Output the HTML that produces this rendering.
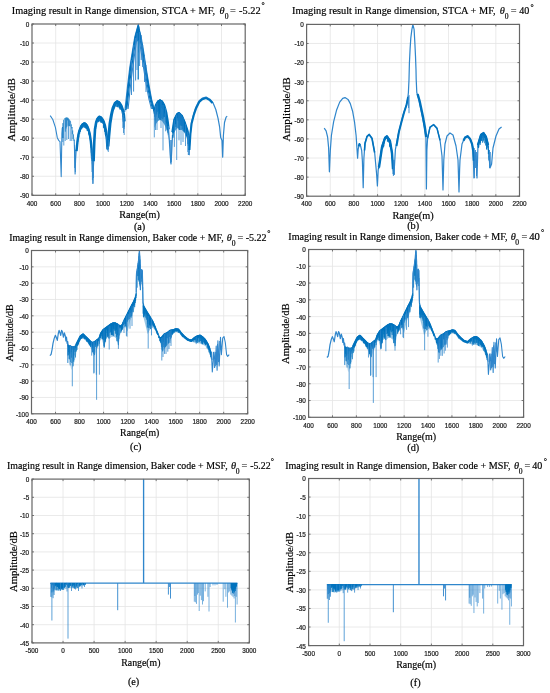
<!DOCTYPE html>
<html><head><meta charset="utf-8"><title>Imaging result in Range dimension</title>
<style>html,body{margin:0;padding:0;background:#fff;}svg{display:block;} .s{stroke:#000;stroke-width:0.18px;} .t{stroke:#1a1a1a;stroke-width:0.2px;}</style></head>
<body><svg width="550" height="693" viewBox="0 0 550 693">
<rect width="550" height="693" fill="#fff"/>
<line x1="55.69" y1="24.00" x2="55.69" y2="195.30" stroke="#e4e4e4" stroke-width="0.8"/>
<line x1="79.38" y1="24.00" x2="79.38" y2="195.30" stroke="#e4e4e4" stroke-width="0.8"/>
<line x1="103.07" y1="24.00" x2="103.07" y2="195.30" stroke="#e4e4e4" stroke-width="0.8"/>
<line x1="126.76" y1="24.00" x2="126.76" y2="195.30" stroke="#e4e4e4" stroke-width="0.8"/>
<line x1="150.44" y1="24.00" x2="150.44" y2="195.30" stroke="#e4e4e4" stroke-width="0.8"/>
<line x1="174.13" y1="24.00" x2="174.13" y2="195.30" stroke="#e4e4e4" stroke-width="0.8"/>
<line x1="197.82" y1="24.00" x2="197.82" y2="195.30" stroke="#e4e4e4" stroke-width="0.8"/>
<line x1="221.51" y1="24.00" x2="221.51" y2="195.30" stroke="#e4e4e4" stroke-width="0.8"/>
<line x1="32.00" y1="176.27" x2="245.20" y2="176.27" stroke="#e4e4e4" stroke-width="0.8"/>
<line x1="32.00" y1="157.23" x2="245.20" y2="157.23" stroke="#e4e4e4" stroke-width="0.8"/>
<line x1="32.00" y1="138.20" x2="245.20" y2="138.20" stroke="#e4e4e4" stroke-width="0.8"/>
<line x1="32.00" y1="119.17" x2="245.20" y2="119.17" stroke="#e4e4e4" stroke-width="0.8"/>
<line x1="32.00" y1="100.13" x2="245.20" y2="100.13" stroke="#e4e4e4" stroke-width="0.8"/>
<line x1="32.00" y1="81.10" x2="245.20" y2="81.10" stroke="#e4e4e4" stroke-width="0.8"/>
<line x1="32.00" y1="62.07" x2="245.20" y2="62.07" stroke="#e4e4e4" stroke-width="0.8"/>
<line x1="32.00" y1="43.03" x2="245.20" y2="43.03" stroke="#e4e4e4" stroke-width="0.8"/>
<line x1="330.26" y1="24.40" x2="330.26" y2="196.20" stroke="#e4e4e4" stroke-width="0.8"/>
<line x1="353.91" y1="24.40" x2="353.91" y2="196.20" stroke="#e4e4e4" stroke-width="0.8"/>
<line x1="377.57" y1="24.40" x2="377.57" y2="196.20" stroke="#e4e4e4" stroke-width="0.8"/>
<line x1="401.22" y1="24.40" x2="401.22" y2="196.20" stroke="#e4e4e4" stroke-width="0.8"/>
<line x1="424.88" y1="24.40" x2="424.88" y2="196.20" stroke="#e4e4e4" stroke-width="0.8"/>
<line x1="448.53" y1="24.40" x2="448.53" y2="196.20" stroke="#e4e4e4" stroke-width="0.8"/>
<line x1="472.19" y1="24.40" x2="472.19" y2="196.20" stroke="#e4e4e4" stroke-width="0.8"/>
<line x1="495.84" y1="24.40" x2="495.84" y2="196.20" stroke="#e4e4e4" stroke-width="0.8"/>
<line x1="306.60" y1="177.11" x2="519.50" y2="177.11" stroke="#e4e4e4" stroke-width="0.8"/>
<line x1="306.60" y1="158.02" x2="519.50" y2="158.02" stroke="#e4e4e4" stroke-width="0.8"/>
<line x1="306.60" y1="138.93" x2="519.50" y2="138.93" stroke="#e4e4e4" stroke-width="0.8"/>
<line x1="306.60" y1="119.84" x2="519.50" y2="119.84" stroke="#e4e4e4" stroke-width="0.8"/>
<line x1="306.60" y1="100.76" x2="519.50" y2="100.76" stroke="#e4e4e4" stroke-width="0.8"/>
<line x1="306.60" y1="81.67" x2="519.50" y2="81.67" stroke="#e4e4e4" stroke-width="0.8"/>
<line x1="306.60" y1="62.58" x2="519.50" y2="62.58" stroke="#e4e4e4" stroke-width="0.8"/>
<line x1="306.60" y1="43.49" x2="519.50" y2="43.49" stroke="#e4e4e4" stroke-width="0.8"/>
<line x1="55.52" y1="250.50" x2="55.52" y2="413.80" stroke="#e4e4e4" stroke-width="0.8"/>
<line x1="79.54" y1="250.50" x2="79.54" y2="413.80" stroke="#e4e4e4" stroke-width="0.8"/>
<line x1="103.57" y1="250.50" x2="103.57" y2="413.80" stroke="#e4e4e4" stroke-width="0.8"/>
<line x1="127.59" y1="250.50" x2="127.59" y2="413.80" stroke="#e4e4e4" stroke-width="0.8"/>
<line x1="151.61" y1="250.50" x2="151.61" y2="413.80" stroke="#e4e4e4" stroke-width="0.8"/>
<line x1="175.63" y1="250.50" x2="175.63" y2="413.80" stroke="#e4e4e4" stroke-width="0.8"/>
<line x1="199.66" y1="250.50" x2="199.66" y2="413.80" stroke="#e4e4e4" stroke-width="0.8"/>
<line x1="223.68" y1="250.50" x2="223.68" y2="413.80" stroke="#e4e4e4" stroke-width="0.8"/>
<line x1="31.50" y1="397.47" x2="247.70" y2="397.47" stroke="#e4e4e4" stroke-width="0.8"/>
<line x1="31.50" y1="381.14" x2="247.70" y2="381.14" stroke="#e4e4e4" stroke-width="0.8"/>
<line x1="31.50" y1="364.81" x2="247.70" y2="364.81" stroke="#e4e4e4" stroke-width="0.8"/>
<line x1="31.50" y1="348.48" x2="247.70" y2="348.48" stroke="#e4e4e4" stroke-width="0.8"/>
<line x1="31.50" y1="332.15" x2="247.70" y2="332.15" stroke="#e4e4e4" stroke-width="0.8"/>
<line x1="31.50" y1="315.82" x2="247.70" y2="315.82" stroke="#e4e4e4" stroke-width="0.8"/>
<line x1="31.50" y1="299.49" x2="247.70" y2="299.49" stroke="#e4e4e4" stroke-width="0.8"/>
<line x1="31.50" y1="283.16" x2="247.70" y2="283.16" stroke="#e4e4e4" stroke-width="0.8"/>
<line x1="31.50" y1="266.83" x2="247.70" y2="266.83" stroke="#e4e4e4" stroke-width="0.8"/>
<line x1="332.49" y1="249.50" x2="332.49" y2="417.30" stroke="#e4e4e4" stroke-width="0.8"/>
<line x1="356.38" y1="249.50" x2="356.38" y2="417.30" stroke="#e4e4e4" stroke-width="0.8"/>
<line x1="380.27" y1="249.50" x2="380.27" y2="417.30" stroke="#e4e4e4" stroke-width="0.8"/>
<line x1="404.16" y1="249.50" x2="404.16" y2="417.30" stroke="#e4e4e4" stroke-width="0.8"/>
<line x1="428.04" y1="249.50" x2="428.04" y2="417.30" stroke="#e4e4e4" stroke-width="0.8"/>
<line x1="451.93" y1="249.50" x2="451.93" y2="417.30" stroke="#e4e4e4" stroke-width="0.8"/>
<line x1="475.82" y1="249.50" x2="475.82" y2="417.30" stroke="#e4e4e4" stroke-width="0.8"/>
<line x1="499.71" y1="249.50" x2="499.71" y2="417.30" stroke="#e4e4e4" stroke-width="0.8"/>
<line x1="308.60" y1="400.52" x2="523.60" y2="400.52" stroke="#e4e4e4" stroke-width="0.8"/>
<line x1="308.60" y1="383.74" x2="523.60" y2="383.74" stroke="#e4e4e4" stroke-width="0.8"/>
<line x1="308.60" y1="366.96" x2="523.60" y2="366.96" stroke="#e4e4e4" stroke-width="0.8"/>
<line x1="308.60" y1="350.18" x2="523.60" y2="350.18" stroke="#e4e4e4" stroke-width="0.8"/>
<line x1="308.60" y1="333.40" x2="523.60" y2="333.40" stroke="#e4e4e4" stroke-width="0.8"/>
<line x1="308.60" y1="316.62" x2="523.60" y2="316.62" stroke="#e4e4e4" stroke-width="0.8"/>
<line x1="308.60" y1="299.84" x2="523.60" y2="299.84" stroke="#e4e4e4" stroke-width="0.8"/>
<line x1="308.60" y1="283.06" x2="523.60" y2="283.06" stroke="#e4e4e4" stroke-width="0.8"/>
<line x1="308.60" y1="266.28" x2="523.60" y2="266.28" stroke="#e4e4e4" stroke-width="0.8"/>
<line x1="63.04" y1="479.10" x2="63.04" y2="642.90" stroke="#e4e4e4" stroke-width="0.8"/>
<line x1="94.09" y1="479.10" x2="94.09" y2="642.90" stroke="#e4e4e4" stroke-width="0.8"/>
<line x1="125.13" y1="479.10" x2="125.13" y2="642.90" stroke="#e4e4e4" stroke-width="0.8"/>
<line x1="156.17" y1="479.10" x2="156.17" y2="642.90" stroke="#e4e4e4" stroke-width="0.8"/>
<line x1="187.21" y1="479.10" x2="187.21" y2="642.90" stroke="#e4e4e4" stroke-width="0.8"/>
<line x1="218.26" y1="479.10" x2="218.26" y2="642.90" stroke="#e4e4e4" stroke-width="0.8"/>
<line x1="32.00" y1="624.70" x2="249.30" y2="624.70" stroke="#e4e4e4" stroke-width="0.8"/>
<line x1="32.00" y1="606.50" x2="249.30" y2="606.50" stroke="#e4e4e4" stroke-width="0.8"/>
<line x1="32.00" y1="588.30" x2="249.30" y2="588.30" stroke="#e4e4e4" stroke-width="0.8"/>
<line x1="32.00" y1="570.10" x2="249.30" y2="570.10" stroke="#e4e4e4" stroke-width="0.8"/>
<line x1="32.00" y1="551.90" x2="249.30" y2="551.90" stroke="#e4e4e4" stroke-width="0.8"/>
<line x1="32.00" y1="533.70" x2="249.30" y2="533.70" stroke="#e4e4e4" stroke-width="0.8"/>
<line x1="32.00" y1="515.50" x2="249.30" y2="515.50" stroke="#e4e4e4" stroke-width="0.8"/>
<line x1="32.00" y1="497.30" x2="249.30" y2="497.30" stroke="#e4e4e4" stroke-width="0.8"/>
<line x1="339.30" y1="478.50" x2="339.30" y2="645.60" stroke="#e4e4e4" stroke-width="0.8"/>
<line x1="370.00" y1="478.50" x2="370.00" y2="645.60" stroke="#e4e4e4" stroke-width="0.8"/>
<line x1="400.70" y1="478.50" x2="400.70" y2="645.60" stroke="#e4e4e4" stroke-width="0.8"/>
<line x1="431.40" y1="478.50" x2="431.40" y2="645.60" stroke="#e4e4e4" stroke-width="0.8"/>
<line x1="462.10" y1="478.50" x2="462.10" y2="645.60" stroke="#e4e4e4" stroke-width="0.8"/>
<line x1="492.80" y1="478.50" x2="492.80" y2="645.60" stroke="#e4e4e4" stroke-width="0.8"/>
<line x1="308.60" y1="627.03" x2="523.50" y2="627.03" stroke="#e4e4e4" stroke-width="0.8"/>
<line x1="308.60" y1="608.47" x2="523.50" y2="608.47" stroke="#e4e4e4" stroke-width="0.8"/>
<line x1="308.60" y1="589.90" x2="523.50" y2="589.90" stroke="#e4e4e4" stroke-width="0.8"/>
<line x1="308.60" y1="571.33" x2="523.50" y2="571.33" stroke="#e4e4e4" stroke-width="0.8"/>
<line x1="308.60" y1="552.77" x2="523.50" y2="552.77" stroke="#e4e4e4" stroke-width="0.8"/>
<line x1="308.60" y1="534.20" x2="523.50" y2="534.20" stroke="#e4e4e4" stroke-width="0.8"/>
<line x1="308.60" y1="515.63" x2="523.50" y2="515.63" stroke="#e4e4e4" stroke-width="0.8"/>
<line x1="308.60" y1="497.07" x2="523.50" y2="497.07" stroke="#e4e4e4" stroke-width="0.8"/>
<polyline points="50.20,115.60 52.80,119.50 55.40,127.30 57.30,137.70 58.60,140.30 60.00,141.60 61.20,176.60 61.90,133.80 62.50,127.00" fill="none" stroke="#2f86cc" stroke-width="1.08" stroke-linejoin="round" stroke-opacity="1.0"/>
<polyline points="62.20,128.00 62.55,138.01 62.90,123.10 63.25,138.06 63.60,120.23 63.95,119.81 64.30,118.88 64.65,118.85 65.00,118.17 65.35,131.63 65.70,117.70 66.05,128.53 66.40,117.50 66.75,126.89 67.10,117.50 67.45,120.37 67.80,117.80 68.15,125.63 68.50,118.50 68.85,126.01 69.20,119.33 69.55,126.16 69.90,120.50 70.25,121.92 70.60,121.87 70.95,126.57 71.30,124.43 71.65,128.33 72.00,127.00 72.35,134.25 72.70,130.50 73.05,139.07 73.40,134.40 73.75,140.57 74.10,139.30 74.45,140.80" fill="none" stroke="#0072bd" stroke-width="0.5" stroke-linejoin="round" stroke-opacity="1.0"/>
<path d="M63.80 120.00V145.50 M65.20 119.00V141.00 M66.80 118.00V140.00 M68.50 119.00V139.00 M70.20 121.00V141.00 M71.80 127.00V141.00 M62.80 128.00V142.00" stroke="#2f86cc" stroke-width="0.78" stroke-opacity="1.0" fill="none"/>
<polyline points="74.20,140.00 74.80,160.00 75.10,174.00 75.60,160.00 76.20,150.00 76.80,148.00" fill="none" stroke="#2f86cc" stroke-width="1.08" stroke-linejoin="round" stroke-opacity="1.0"/>
<path d="M74.60 145.00V168.00 M75.40 150.00V172.00" stroke="#2f86cc" stroke-width="0.78" stroke-opacity="1.0" fill="none"/>
<polyline points="76.50,150.00 76.65,150.96 76.80,147.00 76.95,149.27 77.10,144.00 77.25,145.29 77.40,141.00 77.55,143.85 77.70,138.60 77.85,141.92 78.00,136.50 78.15,136.60 78.30,134.40 78.45,133.80 78.60,132.61 78.75,137.28 78.90,131.44 79.05,133.38 79.20,130.28 79.35,131.99 79.50,129.25 79.65,134.09 79.80,128.50 79.95,131.42 80.10,127.75 80.25,131.98 80.40,127.00 80.55,129.88 80.70,126.25 80.85,129.72 81.00,125.50 81.15,126.89 81.30,125.06 81.45,128.69 81.60,124.62 81.75,129.08 81.90,124.18 82.05,127.44 82.20,123.74 82.35,127.85 82.50,123.30 82.65,127.34 82.80,123.14 82.95,124.08 83.10,122.98 83.25,127.43 83.40,122.82 83.55,126.69 83.70,122.66 83.85,125.24 84.00,122.50 84.15,123.22 84.30,122.56 84.45,127.69 84.60,122.62 84.75,126.22 84.90,122.68 85.05,127.34 85.20,122.74 85.35,128.03 85.50,122.80 85.65,127.65 85.80,123.14 85.95,128.82 86.10,123.48 86.25,127.00 86.40,123.82 86.55,129.16 86.70,124.16 86.85,128.00 87.00,124.50 87.15,130.62 87.30,125.20 87.45,131.10 87.60,125.90 87.75,127.73 87.90,126.60 88.05,128.76 88.20,127.30 88.35,130.05 88.50,128.00 88.65,134.50 88.80,129.12 88.95,133.45 89.10,130.25 89.25,135.58 89.40,131.37 89.55,135.07 89.70,132.50 89.85,137.89 90.00,134.55 90.15,139.35 90.30,136.59 90.45,141.26 90.60,138.64 90.75,144.72 90.90,141.00 91.05,147.80 91.20,144.00 91.35,152.74 91.50,147.00 91.65,155.13 91.80,151.33 91.95,160.93 92.10,156.33 92.25,164.38" fill="none" stroke="#0072bd" stroke-width="0.6" stroke-linejoin="round" stroke-opacity="1.0"/>
<polyline points="76.50,151.20 77.50,141.20 78.50,134.20 79.40,130.70 81.00,126.70 82.50,124.50 84.00,123.70 85.50,124.00 87.00,125.70 88.50,129.20 89.70,133.70 90.80,141.20 91.60,149.20 92.20,159.20" fill="none" stroke="#0072bd" stroke-width="2.4" stroke-linejoin="round" stroke-opacity="1.0"/>
<polyline points="92.00,156.00 92.50,170.00 92.90,183.50 93.30,170.00 93.80,160.00" fill="none" stroke="#2f86cc" stroke-width="1.08" stroke-linejoin="round" stroke-opacity="1.0"/>
<path d="M92.40 150.00V180.00 M93.00 155.00V183.60 M92.00 150.00V172.00 M93.50 158.00V178.00" stroke="#2f86cc" stroke-width="0.78" stroke-opacity="1.0" fill="none"/>
<polyline points="93.70,157.14 93.85,155.82 94.00,148.57 94.15,145.67 94.30,140.00 94.45,140.80 94.60,134.86 94.75,134.05 94.90,129.71 95.05,128.69 95.20,126.83 95.35,128.85 95.50,125.08 95.65,128.96 95.80,123.33 95.95,126.83 96.10,121.58 96.25,125.14 96.40,120.46 96.55,122.14 96.70,119.65 96.85,122.86 97.00,118.85 97.15,120.92 97.30,118.04 97.45,119.55 97.60,117.39 97.75,118.68 97.90,117.05 98.05,119.16 98.20,116.71 98.35,122.17 98.50,116.37 98.65,121.59 98.80,116.03 98.95,121.29 99.10,115.81 99.25,121.30 99.40,115.85 99.55,118.23 99.70,115.89 99.85,119.07 100.00,115.93 100.15,120.81 100.30,115.97 100.45,121.37 100.60,116.10 100.75,122.24 100.90,116.40 101.05,122.74 101.20,116.70 101.35,118.41 101.50,117.00 101.65,122.25 101.80,117.30 101.95,122.95 102.10,117.67 102.25,122.68 102.40,118.17 102.55,121.03 102.70,118.67 102.85,123.75 103.00,119.17 103.15,121.24 103.30,119.67 103.45,127.57 103.60,120.31 103.75,128.28 103.90,121.23 104.05,127.56 104.20,122.15 104.35,126.82 104.50,123.08 104.65,131.93 104.80,124.00 104.95,131.19 105.10,125.50 105.25,134.60 105.40,127.00 105.55,135.90 105.70,128.50 105.85,135.25 106.00,130.00 106.15,136.41 106.30,132.40 106.45,139.89 106.60,134.80 106.75,140.98 106.90,137.20 107.05,141.34 107.20,141.33 107.35,146.04 107.50,146.33 107.65,150.06" fill="none" stroke="#0072bd" stroke-width="0.6" stroke-linejoin="round" stroke-opacity="1.0"/>
<polyline points="93.60,161.30 94.30,141.30 95.00,129.30 96.20,122.30 97.50,118.80 99.00,117.10 100.50,117.30 102.00,118.80 103.50,121.30 104.80,125.30 106.00,131.30 107.00,139.30 107.60,149.30" fill="none" stroke="#0072bd" stroke-width="2.6" stroke-linejoin="round" stroke-opacity="1.0"/>
<path d="M107.60 140.00V150.50 M106.80 135.00V147.00" stroke="#2f86cc" stroke-width="0.78" stroke-opacity="1.0" fill="none"/>
<polyline points="108.20,142.50 108.35,145.85 108.50,138.75 108.65,141.73 108.80,135.00 108.95,137.24 109.10,131.75 109.25,134.11 109.40,128.50 109.55,130.28 109.70,125.25 109.85,127.46 110.00,122.00 110.15,121.58 110.30,120.20 110.45,121.83 110.60,118.40 110.75,121.36 110.90,116.60 111.05,118.79 111.20,114.80 111.35,117.66 111.50,113.00 111.65,113.46 111.80,111.70 111.95,113.78 112.10,110.40 112.25,111.69 112.40,109.10 112.55,111.71 112.70,107.80 112.85,110.66 113.00,106.50 113.15,106.54 113.30,105.83 113.45,107.58 113.60,105.15 113.75,107.31 113.90,104.48 114.05,109.38 114.20,103.80 114.35,108.30 114.50,103.13 114.65,104.72 114.80,102.45 114.95,107.33 115.10,101.92 115.25,103.66 115.40,101.68 115.55,106.18 115.70,101.44 115.85,103.13 116.00,101.20 116.15,101.22 116.30,100.96 116.45,106.76 116.60,100.72 116.75,103.15 116.90,100.48 117.05,103.05 117.20,100.48 117.35,107.10 117.50,100.60 117.65,106.80 117.80,100.72 117.95,103.96 118.10,100.84 118.25,107.47 118.40,100.96 118.55,105.68 118.70,101.08 118.85,106.51 119.00,101.20 119.15,104.04 119.30,101.62 119.45,108.43 119.60,102.04 119.75,107.76 119.90,102.46 120.05,109.44 120.20,102.88 120.35,109.57 120.50,103.30 120.65,106.88 120.80,103.72 120.95,107.73 121.10,104.28 121.25,107.11 121.40,105.12 121.55,107.80 121.70,105.97 121.85,107.80 122.00,106.81 122.15,110.82 122.30,107.66 122.45,113.58 122.60,108.50 122.75,109.43 122.90,109.85 123.05,117.00 123.20,111.20 123.35,116.37 123.50,112.55 123.65,118.21 123.80,115.33 123.95,127.21 124.10,118.83 124.25,129.07" fill="none" stroke="#0072bd" stroke-width="0.6" stroke-linejoin="round" stroke-opacity="1.0"/>
<polyline points="108.00,146.50 108.80,136.50 110.00,123.50 111.50,114.50 113.00,108.00 115.00,103.50 117.00,101.90 119.00,102.70 121.00,105.50 122.60,110.00 123.60,114.50 124.20,121.50" fill="none" stroke="#0072bd" stroke-width="3.0" stroke-linejoin="round" stroke-opacity="1.0"/>
<path d="M123.50 115.00V133.00 M124.20 118.00V135.00 M122.80 112.00V128.00 M108.30 140.00V152.00" stroke="#2f86cc" stroke-width="0.78" stroke-opacity="1.0" fill="none"/>
<polygon points="135.00,36.00 136.20,31.90 138.30,24.40 139.20,29.50 141.20,37.00 141.20,37.00 140.00,42.00 138.50,40.00 137.00,42.00 135.00,36.00" fill="#0072bd" fill-opacity="0.9" stroke="none"/>
<polyline points="124.60,112.00 125.10,108.90 127.50,86.70 129.80,67.60 132.40,51.70 134.70,37.50 136.20,31.90 138.30,24.40 139.20,29.50 141.20,37.50 143.60,51.70 146.00,67.60 149.20,86.70 151.60,99.40 154.20,108.90" fill="none" stroke="#2f86cc" stroke-width="1.215" stroke-linejoin="round" stroke-opacity="1.0"/>
<polyline points="125.60,110.00 126.00,108.90 128.30,86.70 130.50,67.60 133.00,51.70 135.30,37.50 136.70,31.90 138.30,26.00" fill="none" stroke="#0072bd" stroke-width="1.5" stroke-linejoin="round" stroke-opacity="1.0"/>
<polyline points="126.90,108.90 129.30,86.70 131.60,67.60 134.00,51.70 136.20,37.50 137.40,31.90" fill="none" stroke="#0072bd" stroke-width="1.1" stroke-linejoin="round" stroke-opacity="1.0"/>
<polyline points="128.10,108.90 130.40,86.70 132.70,67.60 135.00,51.70 137.00,37.50" fill="none" stroke="#2f86cc" stroke-width="1.08" stroke-linejoin="round" stroke-opacity="1.0"/>
<polyline points="138.60,26.50 139.00,30.00 140.60,37.50 143.00,51.70 145.40,67.60 148.60,86.70 151.00,99.40 153.50,108.90 154.60,114.00" fill="none" stroke="#0072bd" stroke-width="1.5" stroke-linejoin="round" stroke-opacity="1.0"/>
<polyline points="139.80,37.50 142.10,51.70 144.50,67.60 147.60,86.70 150.00,99.40 152.50,108.90" fill="none" stroke="#0072bd" stroke-width="1.1" stroke-linejoin="round" stroke-opacity="1.0"/>
<polyline points="138.90,37.50 141.10,51.70 143.50,67.60 146.60,86.70 149.00,99.40 151.50,108.90" fill="none" stroke="#2f86cc" stroke-width="1.08" stroke-linejoin="round" stroke-opacity="1.0"/>
<polyline points="138.30,25.00 138.20,79.50" fill="none" stroke="#0072bd" stroke-width="1.2" stroke-linejoin="round" stroke-opacity="1.0"/>
<path d="M133.60 45.00V91.60 M135.60 38.00V80.50 M141.20 35.00V60.00 M142.70 45.00V67.00 M131.50 60.00V95.00 M144.50 55.00V82.00 M146.00 65.00V92.00 M137.00 33.00V70.00 M139.60 32.00V66.00" stroke="#2f86cc" stroke-width="0.9099999999999999" stroke-opacity="1.0" fill="none"/>
<polygon points="154.50,110.00 156.00,104.00 158.00,100.50 160.00,99.50 162.00,100.50 164.00,104.00 166.00,111.00 167.50,120.00 168.50,128.00 168.50,140.00 167.50,133.00 166.00,128.00 164.00,124.00 162.00,121.00 160.00,120.00 158.00,121.00 156.00,124.00 154.50,128.00" fill="#0072bd" fill-opacity="0.7" stroke="none"/>
<polyline points="154.50,110.00 154.65,116.78 154.80,108.80 154.95,112.30 155.10,107.60 155.25,120.48 155.40,106.40 155.55,108.18 155.70,105.20 155.85,116.62 156.00,104.00 156.15,112.70 156.30,103.47 156.45,105.27 156.60,102.95 156.75,114.42 156.90,102.42 157.05,103.63 157.20,101.90 157.35,112.06 157.50,101.37 157.65,103.54 157.80,100.85 157.95,103.59 158.10,100.45 158.25,110.70 158.40,100.30 158.55,117.83 158.70,100.15 158.85,103.93 159.00,100.00 159.15,106.10 159.30,99.85 159.45,113.89 159.60,99.70 159.75,119.26 159.90,99.55 160.05,112.73 160.20,99.60 160.35,109.46 160.50,99.75 160.65,119.93 160.80,99.90 160.95,101.74 161.10,100.05 161.25,118.27 161.40,100.20 161.55,107.88 161.70,100.35 161.85,104.78 162.00,100.50 162.15,104.46 162.30,101.03 162.45,109.24 162.60,101.55 162.75,119.08 162.90,102.08 163.05,107.49 163.20,102.60 163.35,115.93 163.50,103.13 163.65,117.42 163.80,103.65 163.95,112.99 164.10,104.35 164.25,117.00 164.40,105.40 164.55,108.02 164.70,106.45 164.85,108.94 165.00,107.50 165.15,113.19 165.30,108.55 165.45,122.17 165.60,109.60 165.75,118.93 165.90,110.65 166.05,117.98 166.20,112.20 166.35,123.57 166.50,114.00 166.65,123.01 166.80,115.80 166.95,122.22 167.10,117.60 167.25,129.87 167.40,119.40 167.55,130.12 167.70,121.60 167.85,126.89 168.00,124.00 168.15,133.13 168.30,126.40 168.45,134.80" fill="none" stroke="#0072bd" stroke-width="0.6" stroke-linejoin="round" stroke-opacity="1.0"/>
<polyline points="154.50,111.30 156.00,105.30 158.00,101.80 160.00,100.80 162.00,101.80 164.00,105.30 166.00,112.30 167.50,121.30 168.50,129.30" fill="none" stroke="#0072bd" stroke-width="2.6" stroke-linejoin="round" stroke-opacity="1.0"/>
<path d="M154.30 110.00V137.40 M163.00 105.00V150.40 M165.60 108.00V131.30 M161.00 101.00V128.00 M157.00 103.00V130.00 M155.50 106.00V130.00" stroke="#2f86cc" stroke-width="0.78" stroke-opacity="1.0" fill="none"/>
<polyline points="168.30,126.00 169.30,140.00 170.20,155.00 171.00,164.00 171.80,150.00 172.50,135.00" fill="none" stroke="#2f86cc" stroke-width="1.215" stroke-linejoin="round" stroke-opacity="1.0"/>
<path d="M170.60 140.00V163.00 M171.40 140.00V162.00" stroke="#2f86cc" stroke-width="0.78" stroke-opacity="1.0" fill="none"/>
<polygon points="172.50,131.00 174.40,118.70 177.20,113.10 179.00,112.20 181.90,115.00 184.70,121.60 187.50,130.00 188.90,137.50 188.50,150.00 187.50,140.00 184.70,133.00 181.90,130.00 179.00,130.00 177.20,128.00 174.40,132.00 172.50,140.00" fill="#0072bd" fill-opacity="0.7" stroke="none"/>
<polyline points="172.50,131.00 172.65,132.88 172.80,129.06 172.95,137.80 173.10,127.12 173.25,128.19 173.40,125.17 173.55,132.80 173.70,123.23 173.85,123.94 174.00,121.29 174.15,124.48 174.30,119.35 174.45,131.92 174.60,118.30 174.75,121.86 174.90,117.70 175.05,126.99 175.20,117.10 175.35,124.23 175.50,116.50 175.65,123.64 175.80,115.90 175.95,123.68 176.10,115.30 176.25,118.84 176.40,114.70 176.55,126.92 176.70,114.10 176.85,115.93 177.00,113.50 177.15,117.86 177.30,113.05 177.45,113.64 177.60,112.90 177.75,118.31 177.90,112.75 178.05,120.61 178.20,112.60 178.35,127.95 178.50,112.45 178.65,120.31 178.80,112.30 178.95,115.34 179.10,112.30 179.25,118.39 179.40,112.59 179.55,129.88 179.70,112.88 179.85,114.88 180.00,113.17 180.15,124.70 180.30,113.46 180.45,121.12 180.60,113.74 180.75,125.46 180.90,114.03 181.05,120.83 181.20,114.32 181.35,126.03 181.50,114.61 181.65,123.48 181.80,114.90 181.95,125.70 182.10,115.47 182.25,129.22 182.40,116.18 182.55,125.71 182.70,116.89 182.85,120.13 183.00,117.59 183.15,119.44 183.30,118.30 183.45,131.10 183.60,119.01 183.75,126.48 183.90,119.71 184.05,123.36 184.20,120.42 184.35,132.11 184.50,121.13 184.65,128.89 184.80,121.90 184.95,131.11 185.10,122.80 185.25,133.30 185.40,123.70 185.55,128.18 185.70,124.60 185.85,129.80 186.00,125.50 186.15,135.57 186.30,126.40 186.45,128.97 186.60,127.30 186.75,136.12 186.90,128.20 187.05,130.24 187.20,129.10 187.35,137.04 187.50,130.00 187.65,138.86 187.80,131.61 187.95,144.01 188.10,133.21 188.25,145.78 188.40,134.82 188.55,143.93" fill="none" stroke="#0072bd" stroke-width="0.6" stroke-linejoin="round" stroke-opacity="1.0"/>
<polyline points="172.50,132.20 174.40,119.90 177.20,114.30 179.00,113.40 181.90,116.20 184.70,122.80 187.50,131.20 188.90,138.70" fill="none" stroke="#0072bd" stroke-width="2.4" stroke-linejoin="round" stroke-opacity="1.0"/>
<path d="M176.70 115.00V160.00 M174.40 120.00V146.90 M179.00 113.00V140.30 M181.00 114.00V145.00 M183.00 117.00V142.00 M185.50 124.00V146.00 M188.30 135.00V155.00 M189.40 140.00V155.30 M187.80 132.00V152.00" stroke="#2f86cc" stroke-width="0.78" stroke-opacity="1.0" fill="none"/>
<polyline points="188.80,155.00 190.40,133.30 191.50,122.50 193.70,113.80 195.80,107.30 199.10,100.80 202.30,98.10 206.10,97.00 209.90,99.20 213.10,103.00 215.80,109.50 218.00,118.10 219.60,126.80 220.70,137.60 222.00,140.50 222.70,157.10 223.40,135.50 224.50,122.50 226.10,117.10 227.20,116.20" fill="none" stroke="#2f86cc" stroke-width="1.215" stroke-linejoin="round" stroke-opacity="1.0"/>
<polyline points="189.40,150.00 190.40,134.00 191.60,123.50 193.80,115.00 196.00,108.60 199.20,102.00 202.30,99.20 206.10,98.10 209.90,100.20 212.50,103.00" fill="none" stroke="#0072bd" stroke-width="2.1" stroke-linejoin="round" stroke-opacity="1.0"/>
<polyline points="324.20,128.20 326.10,130.90 327.60,137.00 328.60,147.60 329.40,171.80 330.30,150.60 331.40,135.50 333.60,121.80 336.70,109.70 339.70,102.10 342.70,98.30 345.00,97.60 348.00,99.40 350.30,103.60 352.60,111.20 354.50,121.80 356.10,135.50 357.10,150.60 357.60,158.20 358.20,149.10 359.40,143.80 360.60,146.00 361.70,150.60 362.40,161.20 363.20,187.70 363.90,158.20 365.00,143.00 367.00,136.20 369.20,134.20 372.00,138.00 374.60,152.00 376.60,174.00 377.40,186.00 378.20,170.00 379.00,166.00 382.00,146.00 385.00,137.00 387.00,135.60 390.00,140.00 392.00,152.00 393.00,168.00 394.00,174.00 395.40,149.60 398.00,135.30 400.60,124.90 403.20,114.50 405.80,106.80 407.70,99.00 408.40,92.50 409.00,79.50 409.40,63.40 410.10,48.90 410.80,38.10 411.90,29.40 412.90,24.70 414.10,29.40 414.80,41.70 415.50,56.10 416.00,69.90 416.20,79.50 416.80,92.50 418.80,99.00 420.10,105.50 422.00,114.50 424.00,124.90 425.90,136.60 426.40,189.00 426.90,150.00 427.60,138.00 430.00,127.00 433.60,124.40 437.00,128.00 440.00,140.00 442.00,156.00 443.00,190.00 443.80,160.00 445.00,144.00 447.00,136.00 450.00,133.00 453.00,135.00 456.00,146.00 458.00,160.00 459.00,192.00 459.60,170.00 460.00,160.00 462.00,144.00 465.00,137.00 467.60,135.60 471.00,140.00 473.00,148.00 474.00,178.00 475.00,152.00 476.20,160.00 477.00,178.00 478.00,144.00 481.00,134.00 483.60,132.40 486.00,136.00 488.00,144.00 490.00,168.00 491.60,164.00 493.00,148.00 496.00,136.00 499.00,129.00 501.60,127.00" fill="none" stroke="#2f86cc" stroke-width="1.215" stroke-linejoin="round" stroke-opacity="1.0"/>
<polyline points="358.60,146.50 359.40,143.80 360.20,145.50" fill="none" stroke="#0072bd" stroke-width="1.8" stroke-linejoin="round" stroke-opacity="1.0"/>
<polyline points="364.50,150.50 365.00,143.50 367.00,136.70 369.20,134.70 372.00,138.50 374.60,152.50" fill="none" stroke="#0072bd" stroke-width="1.6" stroke-linejoin="round" stroke-opacity="1.0"/>
<polyline points="378.60,168.00 378.75,169.06 378.90,166.50 379.05,167.92 379.20,164.67 379.35,167.58 379.50,162.67 379.65,163.73 379.80,160.67 379.95,162.02 380.10,158.67 380.25,160.51 380.40,156.67 380.55,156.60 380.70,154.67 380.85,156.35 381.00,152.67 381.15,155.09 381.30,150.67 381.45,154.13 381.60,148.67 381.75,148.22 381.90,146.67 382.05,147.67 382.20,145.40 382.35,145.49 382.50,144.50 382.65,148.91 382.80,143.60 382.95,147.31 383.10,142.70 383.25,142.50 383.40,141.80 383.55,147.24 383.70,140.90 383.85,146.24 384.00,140.00 384.15,143.47 384.30,139.10 384.45,142.34 384.60,138.20 384.75,138.69 384.90,137.30 385.05,137.06 385.20,136.86 385.35,139.96 385.50,136.65 385.65,136.91 385.80,136.44 385.95,137.51 386.10,136.23 386.25,137.64 386.40,136.02 386.55,136.10 386.70,135.81 386.85,138.66 387.00,135.60 387.15,138.65 387.30,136.04 387.45,141.73 387.60,136.48 387.75,140.10 387.90,136.92 388.05,141.37 388.20,137.36 388.35,140.91 388.50,137.80 388.65,142.48 388.80,138.24 388.95,141.57 389.10,138.68 389.25,140.81 389.40,139.12 389.55,146.23 389.70,139.56 389.85,146.72 390.00,140.00 390.15,146.84 390.30,141.80 390.45,147.81 390.60,143.60 390.75,146.83 390.90,145.40 391.05,148.03 391.20,147.20 391.35,150.32 391.50,149.00 391.65,150.45 391.80,150.80 391.95,157.81 392.10,153.60 392.25,159.00 392.40,158.40 392.55,166.64 392.70,163.20 392.85,168.04 393.00,168.00 393.15,174.07 393.30,169.80 393.45,174.26 393.60,171.60 393.75,172.50 393.90,173.40 394.05,174.42" fill="none" stroke="#0072bd" stroke-width="0.6" stroke-linejoin="round" stroke-opacity="1.0"/>
<polyline points="379.00,167.20 382.00,147.20 385.00,138.20 387.00,136.80 390.00,141.20 392.00,153.20 393.00,169.20" fill="none" stroke="#0072bd" stroke-width="2.4" stroke-linejoin="round" stroke-opacity="1.0"/>
<polyline points="396.50,146.00 399.00,131.50 401.60,121.50 404.20,112.00 406.60,104.80 408.10,97.00" fill="none" stroke="#0072bd" stroke-width="2.0" stroke-linejoin="round" stroke-opacity="1.0"/>
<path d="M409.00 95.00V113.20 M408.60 96.00V108.00 M393.40 160.00V176.00 M394.30 160.00V175.00" stroke="#2f86cc" stroke-width="0.9099999999999999" stroke-opacity="1.0" fill="none"/>
<polyline points="417.60,94.00 419.60,101.00 421.20,108.50 423.00,117.00 424.80,127.00 426.20,137.00" fill="none" stroke="#0072bd" stroke-width="2.4" stroke-linejoin="round" stroke-opacity="1.0"/>
<polyline points="427.60,138.40 430.00,127.40 433.60,124.80 437.00,128.40 440.00,140.40" fill="none" stroke="#0072bd" stroke-width="1.4" stroke-linejoin="round" stroke-opacity="1.0"/>
<polyline points="463.50,140.80 465.00,137.80 467.60,136.40 470.00,138.80 472.00,143.80 473.20,150.80 473.80,160.80" fill="none" stroke="#0072bd" stroke-width="2.2" stroke-linejoin="round" stroke-opacity="1.0"/>
<polyline points="478.00,144.00 478.15,147.37 478.30,143.00 478.45,148.06 478.60,142.00 478.75,147.33 478.90,141.00 479.05,141.79 479.20,140.00 479.35,139.60 479.50,139.00 479.65,142.12 479.80,138.00 479.95,140.23 480.10,137.00 480.25,144.81 480.40,136.00 480.55,142.79 480.70,135.00 480.85,141.03 481.00,134.00 481.15,140.03 481.30,133.82 481.45,140.95 481.60,133.63 481.75,135.12 481.90,133.45 482.05,138.12 482.20,133.26 482.35,134.92 482.50,133.08 482.65,142.72 482.80,132.89 482.95,133.43 483.10,132.71 483.25,141.34 483.40,132.52 483.55,133.22 483.70,132.55 483.85,140.09 484.00,133.00 484.15,136.83 484.30,133.45 484.45,138.02 484.60,133.90 484.75,143.22 484.90,134.35 485.05,134.78 485.20,134.80 485.35,135.69 485.50,135.25 485.65,145.49 485.80,135.70 485.95,141.52 486.10,136.40 486.25,138.00 486.40,137.60 486.55,149.06 486.70,138.80 486.85,149.81 487.00,140.00 487.15,141.84 487.30,141.20 487.45,146.46 487.60,142.40 487.75,144.49 487.90,143.60 488.05,147.94 488.20,146.13 488.35,154.13 488.50,149.33 488.65,152.52 488.80,152.53 488.95,160.47 489.10,155.73 489.25,157.77 489.40,158.93 489.55,161.37" fill="none" stroke="#0072bd" stroke-width="0.6" stroke-linejoin="round" stroke-opacity="1.0"/>
<polyline points="478.00,145.20 481.00,135.20 483.60,133.60 486.00,137.20 488.00,145.20" fill="none" stroke="#0072bd" stroke-width="2.4" stroke-linejoin="round" stroke-opacity="1.0"/>
<path d="M489.50 150.00V168.00 M490.30 152.00V167.00 M475.50 150.00V168.00 M476.50 152.00V176.00 M474.30 148.00V178.00" stroke="#2f86cc" stroke-width="0.9099999999999999" stroke-opacity="1.0" fill="none"/>
<polyline points="49.90,355.60 51.10,354.40 52.10,349.50 53.00,343.30 54.20,338.40 55.40,335.30 56.70,338.40 57.30,340.30 58.30,333.50 59.10,330.40 60.00,332.90 60.70,335.30 61.60,330.40 62.40,331.70 63.40,337.20 64.40,332.90 65.30,336.00 65.90,340.90 66.50,337.20 67.10,343.30 67.70,341.50 68.30,347.00" fill="none" stroke="#2f86cc" stroke-width="1.215" stroke-linejoin="round" stroke-opacity="1.0"/>
<polygon points="67.50,344.00 68.30,345.20 70.80,345.80 73.20,346.40 75.10,345.80 76.30,343.90 77.50,341.50 77.50,348.00 76.30,354.00 75.10,360.00 73.20,366.00 71.40,370.00 69.60,364.00 67.50,362.00" fill="#0072bd" fill-opacity="0.2" stroke="none"/>
<polyline points="67.50,344.00 67.65,345.95 67.80,344.45 67.95,355.63 68.10,344.90 68.25,354.87 68.40,345.22 68.55,352.08 68.70,345.30 68.85,347.78 69.00,345.37 69.15,358.83 69.30,345.44 69.45,359.40 69.60,345.51 69.75,353.50 69.90,345.58 70.05,353.80 70.20,345.66 70.35,348.88 70.50,345.73 70.65,345.78 70.80,345.80 70.95,352.08 71.10,345.88 71.25,357.67 71.40,345.95 71.55,346.72 71.70,346.02 71.85,363.05 72.00,346.10 72.15,349.46 72.30,346.17 72.45,349.44 72.60,346.25 72.75,346.63 72.90,346.32 73.05,366.27 73.20,346.40 73.35,359.29 73.50,346.31 73.65,361.66 73.80,346.21 73.95,355.47 74.10,346.12 74.25,346.27 74.40,346.02 74.55,349.69 74.70,345.93 74.85,351.90 75.00,345.83 75.15,346.57 75.30,345.48 75.45,357.44 75.60,345.01 75.75,348.04 75.90,344.53 76.05,345.26 76.20,344.06 76.35,351.46 76.50,343.50 76.65,343.81 76.80,342.90 76.95,349.99 77.10,342.30 77.25,344.59 77.40,341.70 77.55,344.50" fill="none" stroke="#0072bd" stroke-width="0.5" stroke-linejoin="round" stroke-opacity="1.0"/>
<polygon points="77.50,341.50 78.10,340.30 80.60,335.30 83.10,333.50 85.50,336.00 88.00,338.40 90.40,340.90 92.30,342.10 92.30,351.00 90.40,347.00 88.00,343.00 85.50,340.50 83.10,338.00 80.60,339.50 78.10,345.00 77.50,348.00" fill="#0072bd" fill-opacity="0.5" stroke="none"/>
<polyline points="77.50,341.50 77.65,345.81 77.80,340.90 77.95,345.08 78.10,340.30 78.25,341.20 78.40,339.70 78.55,344.00 78.70,339.10 78.85,340.03 79.00,338.50 79.15,341.46 79.30,337.90 79.45,338.26 79.60,337.30 79.75,340.50 79.90,336.70 80.05,337.35 80.20,336.10 80.35,339.02 80.50,335.50 80.65,338.51 80.80,335.16 80.95,338.48 81.10,334.94 81.25,337.06 81.40,334.72 81.55,338.46 81.70,334.51 81.85,338.71 82.00,334.29 82.15,334.96 82.30,334.08 82.45,336.58 82.60,333.86 82.75,338.06 82.90,333.64 83.05,337.06 83.20,333.60 83.35,336.11 83.50,333.92 83.65,335.81 83.80,334.23 83.95,338.72 84.10,334.54 84.25,335.32 84.40,334.85 84.55,338.63 84.70,335.17 84.85,339.25 85.00,335.48 85.15,336.66 85.30,335.79 85.45,337.79 85.60,336.10 85.75,337.99 85.90,336.38 86.05,339.30 86.20,336.67 86.35,338.85 86.50,336.96 86.65,341.26 86.80,337.25 86.95,341.67 87.10,337.54 87.25,339.50 87.40,337.82 87.55,342.16 87.70,338.11 87.85,338.80 88.00,338.40 88.15,339.28 88.30,338.71 88.45,342.39 88.60,339.02 88.75,343.42 88.90,339.34 89.05,343.97 89.20,339.65 89.35,345.22 89.50,339.96 89.65,345.11 89.80,340.27 89.95,342.45 90.10,340.59 90.25,345.48 90.40,340.90 90.55,346.93 90.70,341.09 90.85,342.20 91.00,341.28 91.15,345.48 91.30,341.47 91.45,343.28 91.60,341.66 91.75,343.46 91.90,341.85 92.05,346.68 92.20,342.04 92.35,348.56" fill="none" stroke="#0072bd" stroke-width="0.55" stroke-linejoin="round" stroke-opacity="1.0"/>
<polygon points="92.30,342.10 94.10,341.50 96.60,339.60 99.00,337.80 100.60,333.00 100.60,340.00 99.00,345.00 96.60,350.00 94.10,357.00 92.30,352.00" fill="#0072bd" fill-opacity="0.3" stroke="none"/>
<polyline points="92.30,342.10 92.45,345.59 92.60,342.00 92.75,352.34 92.90,341.90 93.05,351.99 93.20,341.80 93.35,344.17 93.50,341.70 93.65,353.77 93.80,341.60 93.95,350.70 94.10,341.50 94.25,341.86 94.40,341.27 94.55,354.99 94.70,341.04 94.85,344.05 95.00,340.82 95.15,344.33 95.30,340.59 95.45,345.43 95.60,340.36 95.75,347.02 95.90,340.13 96.05,341.18 96.20,339.90 96.35,347.01 96.50,339.68 96.65,348.01 96.80,339.45 96.95,344.10 97.10,339.23 97.25,346.51 97.40,339.00 97.55,344.33 97.70,338.78 97.85,345.73 98.00,338.55 98.15,339.71 98.30,338.33 98.45,340.78 98.60,338.10 98.75,341.27 98.90,337.88 99.05,338.25 99.20,337.20 99.35,343.69 99.50,336.30 99.65,340.18 99.80,335.40 99.95,335.50 100.10,334.50 100.25,337.94 100.40,333.60 100.55,335.81" fill="none" stroke="#0072bd" stroke-width="0.55" stroke-linejoin="round" stroke-opacity="1.0"/>
<polygon points="100.60,333.00 103.00,329.30 105.50,327.40 108.00,325.60 110.40,323.80 112.90,322.50 115.30,322.50 117.80,323.80 120.20,325.60 122.10,324.40 123.90,320.10 126.40,315.20 128.80,310.30 131.30,305.30 133.70,301.00 135.00,297.40 136.20,292.50 136.20,300.00 134.40,308.40 132.50,314.60 130.10,320.70 127.60,331.70 125.10,326.80 122.70,329.30 120.20,334.20 118.40,346.50 116.00,338.00 114.10,336.70 111.60,336.70 109.20,339.10 106.70,336.70 104.30,347.70 101.80,339.10 100.60,340.00" fill="#0072bd" fill-opacity="0.4" stroke="none"/>
<polyline points="100.60,333.00 100.75,338.25 100.90,332.54 101.05,334.06 101.20,332.07 101.35,333.67 101.50,331.61 101.65,336.33 101.80,331.15 101.95,331.58 102.10,330.69 102.25,338.57 102.40,330.23 102.55,339.17 102.70,329.76 102.85,330.29 103.00,329.30 103.15,339.52 103.30,329.07 103.45,337.48 103.60,328.84 103.75,340.09 103.90,328.62 104.05,346.07 104.20,328.39 104.35,347.24 104.50,328.16 104.65,336.12 104.80,327.93 104.95,342.33 105.10,327.70 105.25,340.28 105.40,327.48 105.55,341.60 105.70,327.26 105.85,327.70 106.00,327.04 106.15,338.53 106.30,326.82 106.45,329.59 106.60,326.61 106.75,328.13 106.90,326.39 107.05,333.05 107.20,326.18 107.35,335.68 107.50,325.96 107.65,337.15 107.80,325.74 107.95,330.58 108.10,325.53 108.25,336.19 108.40,325.30 108.55,325.77 108.70,325.08 108.85,338.37 109.00,324.85 109.15,329.49 109.30,324.63 109.45,332.79 109.60,324.40 109.75,326.47 109.90,324.18 110.05,324.91 110.20,323.95 110.35,324.01 110.50,323.75 110.65,332.50 110.80,323.59 110.95,331.74 111.10,323.44 111.25,334.76 111.40,323.28 111.55,334.92 111.70,323.12 111.85,329.35 112.00,322.97 112.15,334.79 112.30,322.81 112.45,326.03 112.60,322.66 112.75,335.18 112.90,322.50 113.05,326.59 113.20,322.50 113.35,335.93 113.50,322.50 113.65,328.50 113.80,322.50 113.95,329.12 114.10,322.50 114.25,330.42 114.40,322.50 114.55,323.63 114.70,322.50 114.85,323.93 115.00,322.50 115.15,331.14 115.30,322.50 115.45,333.69 115.60,322.66 115.75,323.66 115.90,322.81 116.05,329.69 116.20,322.97 116.35,329.66 116.50,323.12 116.65,336.89 116.80,323.28 116.95,341.21 117.10,323.44 117.25,325.69 117.40,323.59 117.55,335.12 117.70,323.75 117.85,326.54 118.00,323.95 118.15,341.37 118.30,324.17 118.45,345.02 118.60,324.40 118.75,338.85 118.90,324.62 119.05,335.37 119.20,324.85 119.35,325.80 119.50,325.07 119.65,326.74 119.80,325.30 119.95,328.31 120.10,325.52 120.25,326.46 120.40,325.47 120.55,326.71 120.70,325.28 120.85,332.64 121.00,325.09 121.15,327.84 121.30,324.91 121.45,331.17 121.60,324.72 121.75,329.74 121.90,324.53 122.05,329.32 122.20,324.16 122.35,329.50 122.50,323.44 122.65,327.65 122.80,322.73 122.95,324.95 123.10,322.01 123.25,325.24 123.40,321.29 123.55,324.14 123.70,320.58 123.85,320.58 124.00,319.90 124.15,320.10 124.30,319.32 124.45,324.10 124.60,318.73 124.75,323.30 124.90,318.14 125.05,326.63 125.20,317.55 125.35,323.79 125.50,316.96 125.65,326.03 125.80,316.38 125.95,322.44 126.10,315.79 126.25,323.83 126.40,315.20 126.55,327.17 126.70,314.59 126.85,315.04 127.00,313.98 127.15,314.16 127.30,313.36 127.45,321.63 127.60,312.75 127.75,318.59 127.90,312.14 128.05,320.17 128.20,311.53 128.35,312.67 128.50,310.91 128.65,313.93 128.80,310.30 128.95,311.96 129.10,309.70 129.25,319.02 129.40,309.10 129.55,309.47 129.70,308.50 129.85,308.61 130.00,307.90 130.15,316.78 130.30,307.30 130.45,312.91 130.60,306.70 130.75,306.82 130.90,306.10 131.05,317.61 131.20,305.50 131.35,311.70 131.50,304.94 131.65,316.07 131.80,304.40 131.95,312.17 132.10,303.87 132.25,310.36 132.40,303.33 132.55,307.99 132.70,302.79 132.85,303.91 133.00,302.25 133.15,312.16 133.30,301.72 133.45,306.25 133.60,301.18 133.75,304.19 133.90,300.45 134.05,301.71 134.20,299.62 134.35,305.07 134.50,298.78 134.65,307.10 134.80,297.95 134.95,301.19 135.10,296.99 135.25,303.02 135.40,295.77 135.55,300.87 135.70,294.54 135.85,298.17 136.00,293.32 136.15,297.84" fill="none" stroke="#0072bd" stroke-width="0.55" stroke-linejoin="round" stroke-opacity="1.0"/>
<polyline points="76.30,345.20 78.10,341.60 80.60,336.60 83.10,334.80 85.50,337.30 88.00,339.70 90.40,342.20 92.30,343.40" fill="none" stroke="#0072bd" stroke-width="2.6" stroke-linejoin="round" stroke-opacity="1.0"/>
<polyline points="96.60,340.60 99.00,338.80 100.60,334.00 103.00,330.30 105.50,328.40 108.00,326.60 110.40,324.80 112.90,323.50 115.30,323.50 117.80,324.80 120.20,326.60 122.10,325.40 123.90,321.10 126.40,316.20 128.80,311.30 131.30,306.30 133.70,302.00 135.00,298.40" fill="none" stroke="#0072bd" stroke-width="1.6" stroke-linejoin="round" stroke-opacity="1.0"/>
<path d="M72.30 346.00V386.30 M67.70 344.00V363.00 M70.20 345.00V365.40 M94.10 342.00V372.80 M96.60 340.00V399.80 M91.70 341.00V355.60 M93.80 342.00V373.50 M96.30 340.00V374.70 M99.40 338.00V374.70 M104.00 329.00V347.70 M109.20 326.00V349.50 M118.40 324.00V348.90 M127.00 314.00V336.70 M70.50 345.00V362.00 M74.00 346.00V360.00" stroke="#2f86cc" stroke-width="0.78" stroke-opacity="1.0" fill="none"/>
<polyline points="136.20,292.50 136.32,295.71 136.45,275.70 136.57,274.59 136.70,272.68 136.82,272.02 136.95,271.16 137.07,287.65 137.20,269.64 137.32,270.54 137.45,268.12 137.57,268.30 137.70,266.60 137.82,276.09 137.95,264.80 138.07,268.41 138.20,263.00 138.32,279.95 138.45,261.20 138.57,263.15 138.70,259.40 138.82,281.48 138.95,256.33 139.07,260.84 139.20,253.26 139.32,268.76 139.45,251.60 139.57,284.40 139.70,255.60 139.82,275.76 139.95,259.60 140.07,286.37 140.20,264.60 140.32,280.85 140.45,271.10 140.57,274.54 140.70,274.50 140.82,283.98 140.95,273.25 141.07,278.68 141.20,272.00 141.32,273.84 141.45,270.44 141.57,271.07 141.70,269.71 141.82,281.66 141.95,270.25 142.07,277.49 142.20,270.79 142.32,285.25 142.45,276.75 142.57,288.50 142.70,287.55 142.82,298.49 142.95,300.17 143.07,303.29" fill="none" stroke="#0072bd" stroke-width="0.55" stroke-linejoin="round" stroke-opacity="1.0"/>
<polyline points="136.20,292.50 136.30,281.10 136.50,273.90 137.70,266.60 138.70,259.40 139.40,250.80 140.10,262.00 140.20,280.00 140.40,289.70 140.80,275.00 141.60,269.50 142.30,271.00 142.60,282.50 143.00,302.70 143.80,305.60" fill="none" stroke="#2f86cc" stroke-width="1.215" stroke-linejoin="round" stroke-opacity="1.0"/>
<polygon points="143.00,302.70 143.30,304.80 146.50,310.30 149.80,315.70 153.10,321.20 155.80,327.70 158.00,333.20 159.60,337.00 161.30,337.00 164.00,333.70 167.30,332.10 170.00,329.90 172.70,329.40 176.00,328.30 178.70,328.80 181.50,332.60 184.70,335.90 188.00,338.60 191.30,339.70 194.50,337.00 197.60,335.20 200.20,334.70 202.80,336.50 205.40,339.00 208.00,343.40 209.70,347.70 211.50,352.90 211.50,360.00 209.70,354.60 208.00,350.30 205.40,346.00 200.20,343.40 195.60,343.00 192.40,341.90 189.10,341.40 185.80,339.70 182.50,337.50 179.30,333.20 176.00,332.10 172.70,334.30 170.50,340.80 168.40,344.10 166.20,346.30 164.00,349.50 162.40,352.00 160.70,344.10 158.50,338.00 156.40,332.10 154.20,328.80 152.00,327.70 149.80,329.90 147.60,334.00 145.50,325.50 143.30,316.80 143.00,312.00" fill="#0072bd" fill-opacity="0.4" stroke="none"/>
<polyline points="143.00,302.70 143.15,313.68 143.30,304.80 143.45,316.82 143.60,305.32 143.75,317.31 143.90,305.83 144.05,307.55 144.20,306.35 144.35,315.56 144.50,306.86 144.65,314.05 144.80,307.38 144.95,316.50 145.10,307.89 145.25,310.77 145.40,308.41 145.55,312.52 145.70,308.93 145.85,317.73 146.00,309.44 146.15,314.44 146.30,309.96 146.45,319.63 146.60,310.46 146.75,311.42 146.90,310.95 147.05,313.46 147.20,311.45 147.35,327.34 147.50,311.94 147.65,322.16 147.80,312.43 147.95,324.00 148.10,312.92 148.25,328.02 148.40,313.41 148.55,321.04 148.70,313.90 148.85,315.49 149.00,314.39 149.15,327.86 149.30,314.88 149.45,324.71 149.60,315.37 149.75,325.48 149.90,315.87 150.05,324.93 150.20,316.37 150.35,329.01 150.50,316.87 150.65,321.91 150.80,317.37 150.95,326.31 151.10,317.87 151.25,322.33 151.40,318.37 151.55,324.38 151.70,318.87 151.85,325.13 152.00,319.37 152.15,322.50 152.30,319.87 152.45,320.97 152.60,320.37 152.75,324.43 152.90,320.87 153.05,326.39 153.20,321.44 153.35,325.89 153.50,322.16 153.65,325.43 153.80,322.89 153.95,326.89 154.10,323.61 154.25,325.03 154.40,324.33 154.55,325.67 154.70,325.05 154.85,326.99 155.00,325.77 155.15,329.54 155.30,326.50 155.45,327.74 155.60,327.22 155.75,328.08 155.90,327.95 156.05,328.73 156.20,328.70 156.35,329.23 156.50,329.45 156.65,330.76 156.80,330.20 156.95,332.43 157.10,330.95 157.25,333.97 157.40,331.70 157.55,333.28 157.70,332.45 157.85,334.19 158.00,333.20 158.15,334.69 158.30,333.91 158.45,335.50 158.60,334.63 158.75,337.94 158.90,335.34 159.05,337.93 159.20,336.05 159.35,337.58 159.50,336.76 159.65,337.56 159.80,337.00 159.95,341.03 160.10,337.00 160.25,341.28 160.40,337.00 160.55,342.64 160.70,337.00 160.85,339.14 161.00,337.00 161.15,342.33 161.30,337.00 161.45,346.79 161.60,336.63 161.75,344.27 161.90,336.27 162.05,349.67 162.20,335.90 162.35,338.93 162.50,335.53 162.65,351.24 162.80,335.17 162.95,336.19 163.10,334.80 163.25,341.91 163.40,334.43 163.55,334.79 163.70,334.07 163.85,346.99 164.00,333.70 164.15,344.80 164.30,333.55 164.45,348.48 164.60,333.41 164.75,345.74 164.90,333.26 165.05,347.29 165.20,333.12 165.35,341.35 165.50,332.97 165.65,346.95 165.80,332.83 165.95,343.48 166.10,332.68 166.25,337.86 166.40,332.54 166.55,345.64 166.70,332.39 166.85,337.86 167.00,332.25 167.15,335.18 167.30,332.10 167.45,333.26 167.60,331.86 167.75,338.28 167.90,331.61 168.05,334.49 168.20,331.37 168.35,343.38 168.50,331.12 168.65,343.14 168.80,330.88 168.95,333.90 169.10,330.63 169.25,332.10 169.40,330.39 169.55,337.05 169.70,330.14 169.85,332.41 170.00,329.90 170.15,336.50 170.30,329.84 170.45,339.00 170.60,329.79 170.75,332.75 170.90,329.73 171.05,334.06 171.20,329.68 171.35,337.51 171.50,329.62 171.65,333.36 171.80,329.57 171.95,332.20 172.10,329.51 172.25,335.03 172.40,329.46 172.55,333.84 172.70,329.40 172.85,333.74 173.00,329.30 173.15,332.64 173.30,329.20 173.45,331.25 173.60,329.10 173.75,332.32 173.90,329.00 174.05,332.71 174.20,328.90 174.35,331.76 174.50,328.80 174.65,329.92 174.80,328.70 174.95,330.03 175.10,328.60 175.25,330.36 175.40,328.50 175.55,331.58 175.70,328.40 175.85,330.62 176.00,328.30 176.15,330.56 176.30,328.36 176.45,331.64 176.60,328.41 176.75,328.97 176.90,328.47 177.05,331.11 177.20,328.52 177.35,330.03 177.50,328.58 177.65,331.00 177.80,328.63 177.95,332.14 178.10,328.69 178.25,329.90 178.40,328.74 178.55,332.77 178.70,328.80 178.85,329.41 179.00,329.21 179.15,331.64 179.30,329.61 179.45,331.88 179.60,330.02 179.75,331.20 179.90,330.43 180.05,332.76 180.20,330.84 180.35,332.85 180.50,331.24 180.65,333.18 180.80,331.65 180.95,334.50 181.10,332.06 181.25,332.29 181.40,332.46 181.55,334.14 181.70,332.81 181.85,335.91 182.00,333.12 182.15,333.92 182.30,333.43 182.45,336.97 182.60,333.73 182.75,334.79 182.90,334.04 183.05,336.79 183.20,334.35 183.35,335.24 183.50,334.66 183.65,336.50 183.80,334.97 183.95,336.66 184.10,335.28 184.25,335.78 184.40,335.59 184.55,338.01 184.70,335.90 184.85,337.60 185.00,336.15 185.15,338.41 185.30,336.39 185.45,338.21 185.60,336.64 185.75,338.47 185.90,336.88 186.05,338.59 186.20,337.13 186.35,338.17 186.50,337.37 186.65,339.90 186.80,337.62 186.95,338.02 187.10,337.86 187.25,340.17 187.40,338.11 187.55,340.31 187.70,338.35 187.85,339.69 188.00,338.60 188.15,340.45 188.30,338.70 188.45,340.37 188.60,338.80 188.75,340.36 188.90,338.90 189.05,339.75 189.20,339.00 189.35,339.91 189.50,339.10 189.65,340.06 189.80,339.20 189.95,340.03 190.10,339.30 190.25,341.49 190.40,339.40 190.55,340.27 190.70,339.50 190.85,340.45 191.00,339.60 191.15,340.59 191.30,339.70 191.45,341.39 191.60,339.45 191.75,340.60 191.90,339.19 192.05,340.70 192.20,338.94 192.35,339.72 192.50,338.69 192.65,339.64 192.80,338.43 192.95,338.74 193.10,338.18 193.25,339.10 193.40,337.93 193.55,339.16 193.70,337.67 193.85,341.75 194.00,337.42 194.15,340.10 194.30,337.17 194.45,337.81 194.60,336.94 194.75,339.78 194.90,336.77 195.05,337.60 195.20,336.59 195.35,340.35 195.50,336.42 195.65,339.53 195.80,336.25 195.95,342.15 196.10,336.07 196.25,338.08 196.40,335.90 196.55,342.10 196.70,335.72 196.85,337.76 197.00,335.55 197.15,343.01 197.30,335.37 197.45,340.51 197.60,335.20 197.75,335.64 197.90,335.14 198.05,341.79 198.20,335.08 198.35,337.62 198.50,335.03 198.65,338.31 198.80,334.97 198.95,336.42 199.10,334.91 199.25,342.07 199.40,334.85 199.55,335.80 199.70,334.80 199.85,341.31 200.00,334.74 200.15,338.48 200.30,334.77 200.45,340.98 200.60,334.98 200.75,337.93 200.90,335.18 201.05,336.15 201.20,335.39 201.35,343.32 201.50,335.60 201.65,341.46 201.80,335.81 201.95,337.61 202.10,336.02 202.25,344.25 202.40,336.22 202.55,343.92 202.70,336.43 202.85,338.32 203.00,336.69 203.15,337.06 203.30,336.98 203.45,342.20 203.60,337.27 203.75,338.73 203.90,337.56 204.05,343.46 204.20,337.85 204.35,341.78 204.50,338.13 204.65,343.67 204.80,338.42 204.95,342.91 205.10,338.71 205.25,344.45 205.40,339.00 205.55,345.11 205.70,339.51 205.85,344.19 206.00,340.02 206.15,344.61 206.30,340.52 206.45,343.32 206.60,341.03 206.75,342.42 206.90,341.54 207.05,342.61 207.20,342.05 207.35,348.33 207.50,342.55 207.65,344.48 207.80,343.06 207.95,346.52 208.10,343.65 208.25,346.48 208.40,344.41 208.55,349.28 208.70,345.17 208.85,349.47 209.00,345.93 209.15,352.33 209.30,346.69 209.45,350.34 209.60,347.45 209.75,350.61 209.90,348.28 210.05,353.43 210.20,349.14 210.35,354.93 210.50,350.01 210.65,356.98 210.80,350.88 210.95,353.78 211.10,351.74 211.25,358.52 211.40,352.61 211.55,359.88" fill="none" stroke="#0072bd" stroke-width="0.55" stroke-linejoin="round" stroke-opacity="1.0"/>
<polyline points="143.30,306.40 146.50,311.90 149.80,317.30 153.10,322.80 155.80,329.30 158.00,334.80" fill="none" stroke="#0072bd" stroke-width="1.6" stroke-linejoin="round" stroke-opacity="1.0"/>
<polyline points="164.00,335.10 167.30,333.50 170.00,331.30 172.70,330.80 176.00,329.70 178.70,330.20 181.50,334.00 184.70,337.30 188.00,340.00 191.30,341.10 194.50,338.40 197.60,336.60 200.20,336.10 202.80,337.90 205.40,340.40 208.00,344.80 209.70,349.10" fill="none" stroke="#0072bd" stroke-width="1.8" stroke-linejoin="round" stroke-opacity="1.0"/>
<path d="M148.20 316.00V348.50 M151.50 318.00V335.40 M161.80 338.00V360.50 M164.50 334.00V353.90 M167.80 333.00V351.70 M170.00 331.00V343.00 M196.20 337.00V344.10 M163.00 337.00V357.00 M166.00 333.00V354.00 M169.00 331.00V349.00 M171.00 330.00V346.00 M126.40 316.00V335.90 M130.00 310.00V328.70 M132.00 306.00V326.00 M124.00 320.00V333.00" stroke="#2f86cc" stroke-width="0.78" stroke-opacity="1.0" fill="none"/>
<polyline points="211.50,352.90 212.30,372.00 214.00,352.00 215.30,365.90 216.20,346.00 217.10,370.20 217.90,340.80 219.20,365.90 220.50,337.30 221.40,354.60 222.70,338.20 224.00,336.50 225.30,342.50 226.60,354.60 227.70,356.40 229.20,354.60" fill="none" stroke="#2f86cc" stroke-width="1.08" stroke-linejoin="round" stroke-opacity="1.0"/>
<polyline points="212.80,360.00 213.40,352.00 214.60,368.00 215.80,352.00 216.70,365.00 217.50,344.00 218.50,362.00 219.80,341.00 220.90,350.00" fill="none" stroke="#2f86cc" stroke-width="0.81" stroke-linejoin="round" stroke-opacity="1.0"/>
<polyline points="326.90,357.50 328.09,356.26 329.09,351.23 329.98,344.86 331.17,339.82 332.37,336.64 333.66,339.82 334.26,341.77 335.25,334.79 336.05,331.60 336.94,334.17 337.64,336.64 338.53,331.60 339.33,332.94 340.32,338.59 341.32,334.17 342.21,337.36 342.81,342.39 343.41,338.59 344.00,344.86 344.60,343.01 345.20,348.66" fill="none" stroke="#2f86cc" stroke-width="1.215" stroke-linejoin="round" stroke-opacity="1.0"/>
<polygon points="344.40,345.58 345.20,346.81 347.68,347.43 350.07,348.04 351.96,347.43 353.15,345.47 354.34,343.01 354.34,349.69 353.15,355.85 351.96,362.02 350.07,368.18 348.28,372.29 346.49,366.13 344.40,364.07" fill="#0072bd" fill-opacity="0.2" stroke="none"/>
<polyline points="344.40,345.58 344.55,347.58 344.70,346.04 344.85,357.53 345.00,346.51 345.15,356.75 345.30,346.84 345.45,353.88 345.60,346.91 345.75,349.46 345.90,346.98 346.05,360.83 346.20,347.06 346.35,361.41 346.50,347.13 346.65,355.35 346.80,347.21 346.95,355.67 347.10,347.28 347.25,350.60 347.40,347.36 347.55,347.41 347.70,347.43 347.85,353.90 348.00,347.51 348.15,359.66 348.30,347.59 348.45,348.38 348.60,347.66 348.75,365.11 348.90,347.74 349.05,351.19 349.20,347.82 349.35,351.16 349.50,347.90 349.65,348.28 349.80,347.97 349.95,368.39 350.10,348.03 350.25,361.21 350.40,347.93 350.55,363.63 350.70,347.84 350.85,357.29 351.00,347.74 351.15,347.90 351.30,347.64 351.45,351.38 351.60,347.54 351.75,353.63 351.90,347.45 352.05,348.14 352.20,347.03 352.35,359.17 352.50,346.54 352.65,349.61 352.80,346.05 352.95,346.78 353.10,345.56 353.25,353.02 353.40,344.96 353.55,345.26 353.70,344.34 353.85,351.48 354.00,343.72 354.15,346.01 354.30,343.10 354.45,346.09" fill="none" stroke="#0072bd" stroke-width="0.5" stroke-linejoin="round" stroke-opacity="1.0"/>
<polygon points="354.34,343.01 354.94,341.77 357.43,336.64 359.91,334.79 362.30,337.36 364.79,339.82 367.17,342.39 369.06,343.62 369.06,352.77 367.17,348.66 364.79,344.55 362.30,341.98 359.91,339.41 357.43,340.95 354.94,346.60 354.34,349.69" fill="#0072bd" fill-opacity="0.5" stroke="none"/>
<polyline points="354.34,343.01 354.49,347.43 354.64,342.39 354.79,346.67 354.94,341.77 355.09,342.69 355.24,341.15 355.39,345.57 355.54,340.53 355.69,341.48 355.84,339.91 355.99,342.95 356.14,339.29 356.29,339.65 356.44,338.67 356.59,341.95 356.74,338.05 356.89,338.71 357.04,337.43 357.19,340.42 357.34,336.81 357.49,339.93 357.64,336.48 357.79,339.89 357.94,336.25 358.09,338.43 358.24,336.03 358.39,339.87 358.54,335.81 358.69,340.12 358.84,335.58 358.99,336.27 359.14,335.36 359.29,337.93 359.44,335.14 359.59,339.45 359.74,334.91 359.89,338.43 360.04,334.93 360.19,337.51 360.34,335.25 360.49,337.20 360.64,335.57 360.79,340.18 360.94,335.90 361.09,336.70 361.24,336.22 361.39,340.10 361.54,336.54 361.69,340.74 361.84,336.87 361.99,338.08 362.14,337.19 362.29,339.24 362.44,337.50 362.59,339.44 362.74,337.80 362.89,340.79 363.04,338.09 363.19,340.33 363.34,338.39 363.49,342.81 363.64,338.69 363.79,343.24 363.94,338.99 364.09,341.01 364.24,339.28 364.39,343.74 364.54,339.58 364.69,340.29 364.84,339.88 364.99,340.80 365.14,340.21 365.29,344.02 365.44,340.53 365.59,345.08 365.74,340.85 365.89,345.65 366.04,341.18 366.19,346.94 366.34,341.50 366.49,346.83 366.64,341.82 366.79,344.07 366.94,342.15 367.09,347.21 367.24,342.44 367.39,348.74 367.54,342.63 367.69,343.79 367.84,342.83 367.99,347.21 368.14,343.03 368.29,344.91 368.44,343.22 368.59,345.10 368.74,343.42 368.89,348.45 369.04,343.61 369.19,350.27" fill="none" stroke="#0072bd" stroke-width="0.55" stroke-linejoin="round" stroke-opacity="1.0"/>
<polygon points="369.06,343.62 370.85,343.01 373.34,341.06 375.73,339.21 377.32,334.27 377.32,341.47 375.73,346.60 373.34,351.74 370.85,358.93 369.06,353.80" fill="#0072bd" fill-opacity="0.3" stroke="none"/>
<polyline points="369.06,343.62 369.21,347.22 369.36,343.52 369.51,354.16 369.66,343.42 369.81,353.80 369.96,343.31 370.11,345.75 370.26,343.21 370.41,355.64 370.56,343.11 370.71,352.47 370.86,343.00 371.01,343.36 371.16,342.76 371.31,356.83 371.46,342.53 371.61,345.61 371.76,342.29 371.91,345.90 372.06,342.06 372.21,347.02 372.36,341.82 372.51,348.64 372.66,341.59 372.81,342.66 372.96,341.35 373.11,348.62 373.26,341.12 373.41,349.65 373.56,340.88 373.71,345.64 373.86,340.65 374.01,348.11 374.16,340.42 374.31,345.87 374.46,340.18 374.61,347.29 374.76,339.95 374.91,341.13 375.06,339.72 375.21,342.23 375.36,339.49 375.51,342.72 375.66,339.25 375.81,339.55 375.96,338.47 376.11,345.14 376.26,337.54 376.41,341.52 376.56,336.61 376.71,336.71 376.86,335.68 377.01,339.21 377.16,334.75 377.31,337.02" fill="none" stroke="#0072bd" stroke-width="0.55" stroke-linejoin="round" stroke-opacity="1.0"/>
<polygon points="377.32,334.27 379.70,330.47 382.19,328.52 384.68,326.67 387.06,324.82 389.55,323.48 391.93,323.48 394.42,324.82 396.81,326.67 398.70,325.44 400.49,321.02 402.97,315.98 405.36,310.95 407.85,305.81 410.23,301.39 411.53,297.69 412.72,292.66 412.72,300.36 410.93,309.00 409.04,315.37 406.65,321.63 404.17,332.94 401.68,327.90 399.29,330.47 396.81,335.51 395.02,348.15 392.63,339.41 390.74,338.08 388.26,338.08 385.87,340.54 383.38,338.08 381.00,349.38 378.51,340.54 377.32,341.47" fill="#0072bd" fill-opacity="0.4" stroke="none"/>
<polyline points="377.32,334.27 377.47,339.66 377.62,333.80 377.77,335.35 377.92,333.32 378.07,334.96 378.22,332.84 378.37,337.69 378.52,332.36 378.67,332.80 378.82,331.88 378.97,340.02 379.12,331.41 379.27,340.64 379.42,330.93 379.57,331.47 379.72,330.46 379.87,341.01 380.02,330.23 380.17,338.90 380.32,329.99 380.47,341.59 380.62,329.75 380.77,347.77 380.92,329.52 381.07,348.81 381.22,329.28 381.37,337.42 381.52,329.05 381.67,343.76 381.82,328.81 381.97,341.65 382.12,328.58 382.27,342.98 382.42,328.35 382.57,328.80 382.72,328.13 382.87,339.82 383.02,327.90 383.17,330.71 383.32,327.68 383.47,329.25 383.62,327.46 383.77,334.33 383.92,327.23 384.07,337.05 384.22,327.01 384.37,338.58 384.52,326.79 384.67,331.78 384.82,326.56 384.97,337.58 385.12,326.33 385.27,326.81 385.42,326.10 385.57,339.84 385.72,325.86 385.87,330.65 386.02,325.63 386.17,334.02 386.32,325.40 386.47,327.52 386.62,325.17 386.77,325.92 386.92,324.93 387.07,325.00 387.22,324.74 387.37,333.71 387.52,324.58 387.67,332.93 387.82,324.41 387.97,336.03 388.12,324.25 388.27,336.20 388.42,324.09 388.57,330.50 388.72,323.93 388.87,336.11 389.02,323.77 389.17,327.08 389.32,323.61 389.47,336.51 389.62,323.48 389.77,327.68 389.92,323.48 390.07,337.28 390.22,323.48 390.37,329.65 390.52,323.48 390.67,330.28 390.82,323.48 390.97,331.65 391.12,323.48 391.27,324.65 391.42,323.48 391.57,324.96 391.72,323.48 391.87,332.39 392.02,323.53 392.17,335.04 392.32,323.69 392.47,324.72 392.62,323.85 392.77,331.04 392.92,324.01 393.07,331.00 393.22,324.17 393.37,338.55 393.52,324.33 393.67,343.04 393.82,324.50 393.97,326.85 394.12,324.66 394.27,336.67 394.42,324.82 394.57,327.75 394.72,325.05 394.87,343.18 395.02,325.28 395.17,345.96 395.32,325.51 395.47,339.78 395.62,325.75 395.77,336.30 395.92,325.98 396.07,326.91 396.22,326.21 396.37,327.82 396.52,326.44 396.67,329.31 396.82,326.66 396.97,327.47 397.12,326.47 397.27,327.71 397.42,326.27 397.57,333.68 397.72,326.08 397.87,328.83 398.02,325.88 398.17,332.17 398.32,325.68 398.47,330.72 398.62,325.49 398.77,330.26 398.92,324.90 399.07,330.43 399.22,324.15 399.37,328.57 399.52,323.41 399.67,325.76 399.82,322.67 399.97,326.07 400.12,321.93 400.27,324.93 400.42,321.19 400.57,321.23 400.72,320.55 400.87,320.76 401.02,319.95 401.17,324.94 401.32,319.34 401.47,324.11 401.62,318.73 401.77,327.84 401.92,318.12 402.07,324.89 402.22,317.52 402.37,327.30 402.52,316.91 402.67,323.43 402.82,316.30 402.97,324.91 403.12,315.68 403.27,328.47 403.42,315.05 403.57,315.54 403.72,314.42 403.87,314.62 404.02,313.78 404.17,322.57 404.32,313.15 404.47,319.03 404.62,312.52 404.77,320.59 404.92,311.88 405.07,313.02 405.22,311.25 405.37,314.27 405.52,310.62 405.67,312.28 405.82,310.00 405.97,319.33 406.12,309.38 406.27,309.74 406.42,308.76 406.57,308.87 406.72,308.14 406.87,317.20 407.02,307.52 407.17,313.24 407.32,306.90 407.47,307.02 407.62,306.28 407.77,318.02 407.92,305.68 408.07,312.00 408.22,305.12 408.37,316.44 408.52,304.57 408.67,312.46 408.82,304.01 408.97,310.60 409.12,303.46 409.27,308.13 409.42,302.90 409.57,304.01 409.72,302.35 409.87,312.25 410.02,301.79 410.17,306.31 410.32,301.15 410.47,304.11 410.62,300.29 410.77,301.57 410.92,299.44 411.07,304.86 411.22,298.58 411.37,306.75 411.52,297.72 411.67,300.77 411.82,296.46 411.97,302.56 412.12,295.20 412.27,300.35 412.42,293.93 412.57,297.59 412.72,292.67 412.87,297.91" fill="none" stroke="#0072bd" stroke-width="0.55" stroke-linejoin="round" stroke-opacity="1.0"/>
<polyline points="353.15,346.81 354.94,343.11 357.43,337.97 359.91,336.12 362.30,338.69 364.79,341.16 367.17,343.73 369.06,344.96" fill="none" stroke="#0072bd" stroke-width="2.6" stroke-linejoin="round" stroke-opacity="1.0"/>
<polyline points="373.34,342.08 375.73,340.23 377.32,335.30 379.70,331.50 382.19,329.55 384.68,327.70 387.06,325.85 389.55,324.51 391.93,324.51 394.42,325.85 396.81,327.70 398.70,326.46 400.49,322.05 402.97,317.01 405.36,311.98 407.85,306.84 410.23,302.42 411.53,298.72" fill="none" stroke="#0072bd" stroke-width="1.6" stroke-linejoin="round" stroke-opacity="1.0"/>
<path d="M349.17 347.63V389.04 M344.60 345.58V365.10 M347.09 346.60V367.57 M370.85 343.52V375.17 M373.34 341.47V402.91 M368.47 342.49V357.50 M370.55 343.52V375.89 M373.04 341.47V377.12 M376.12 339.41V377.12 M380.70 330.16V349.38 M385.87 327.08V351.23 M395.02 325.03V350.61 M403.57 314.75V338.08 M347.38 346.60V364.07 M350.86 347.63V362.02" stroke="#2f86cc" stroke-width="0.78" stroke-opacity="1.0" fill="none"/>
<polyline points="412.72,292.66 412.84,295.94 412.97,275.34 413.09,274.24 413.22,272.28 413.34,271.59 413.47,270.71 413.59,287.65 413.72,269.13 413.84,270.06 413.97,267.56 414.09,267.74 414.22,265.98 414.34,275.75 414.47,264.12 414.59,267.84 414.72,262.26 414.84,279.71 414.97,260.40 415.09,262.41 415.22,258.47 415.34,281.43 415.47,255.30 415.59,259.99 415.72,252.12 415.84,268.21 415.97,250.93 416.09,284.43 416.22,255.06 416.34,275.64 416.47,259.19 416.59,286.47 416.72,264.59 416.84,280.83 416.97,271.30 417.09,274.84 417.22,274.03 417.34,283.83 417.47,272.74 417.59,278.35 417.72,271.41 417.84,273.32 417.97,269.80 418.09,270.49 418.22,269.31 418.34,281.60 418.47,269.86 418.59,277.31 418.72,270.42 418.84,285.97 418.97,277.85 419.09,289.59 419.22,289.45 419.34,299.99 419.47,302.50 419.59,303.74" fill="none" stroke="#0072bd" stroke-width="0.55" stroke-linejoin="round" stroke-opacity="1.0"/>
<polyline points="412.72,292.66 412.82,280.94 413.02,273.54 414.21,266.04 415.20,258.65 415.90,249.81 416.60,261.32 416.70,279.81 416.90,289.78 417.29,274.68 418.09,269.02 418.79,270.56 419.08,282.38 419.48,303.14 420.28,306.12" fill="none" stroke="#2f86cc" stroke-width="1.215" stroke-linejoin="round" stroke-opacity="1.0"/>
<polygon points="419.48,303.14 419.78,305.30 422.96,310.95 426.24,316.50 429.53,322.15 432.21,328.83 434.40,334.48 435.99,338.38 437.68,338.38 440.36,334.99 443.65,333.35 446.33,331.09 449.02,330.57 452.30,329.44 454.98,329.96 457.77,333.86 460.95,337.25 464.23,340.03 467.51,341.16 470.70,338.38 473.78,336.53 476.36,336.02 478.95,337.87 481.53,340.44 484.12,344.96 485.81,349.38 487.60,354.72 487.60,362.02 485.81,356.47 484.12,352.05 481.53,347.63 476.36,344.96 471.79,344.55 468.61,343.42 465.33,342.90 462.04,341.16 458.76,338.90 455.58,334.48 452.30,333.35 449.02,335.61 446.83,342.29 444.74,345.68 442.55,347.94 440.36,351.23 438.77,353.80 437.08,345.68 434.90,339.41 432.81,333.35 430.62,329.96 428.43,328.83 426.24,331.09 424.06,335.30 421.97,326.57 419.78,317.63 419.48,312.69" fill="#0072bd" fill-opacity="0.4" stroke="none"/>
<polyline points="419.48,303.14 419.63,314.43 419.78,305.30 419.93,317.66 420.08,305.83 420.23,318.17 420.38,306.36 420.53,308.14 420.68,306.90 420.83,316.37 420.98,307.43 421.13,314.83 421.28,307.96 421.43,317.35 421.58,308.50 421.73,311.45 421.88,309.03 422.03,313.27 422.18,309.56 422.33,318.63 422.48,310.09 422.63,315.24 422.78,310.63 422.93,320.59 423.08,311.15 423.23,312.14 423.38,311.66 423.53,314.23 423.68,312.16 423.83,328.54 423.98,312.67 424.13,323.14 424.28,313.18 424.43,325.02 424.58,313.69 424.73,329.13 424.88,314.19 425.03,321.99 425.18,314.70 425.33,316.32 425.48,315.21 425.63,328.95 425.78,315.72 425.93,325.73 426.08,316.22 426.23,326.52 426.38,316.73 426.53,325.98 426.68,317.25 426.83,330.14 426.98,317.77 427.13,322.90 427.28,318.28 427.43,327.38 427.58,318.80 427.73,323.33 427.88,319.32 428.03,325.42 428.18,319.83 428.33,326.18 428.48,320.35 428.63,323.55 428.78,320.87 428.93,322.00 429.08,321.38 429.23,325.52 429.38,321.90 429.53,327.53 429.68,322.54 429.83,327.04 429.98,323.28 430.13,326.59 430.28,324.03 430.43,328.07 430.58,324.78 430.73,326.22 430.88,325.52 431.03,326.89 431.18,326.27 431.33,328.24 431.48,327.01 431.63,330.83 431.78,327.76 431.93,329.02 432.08,328.51 432.23,329.39 432.38,329.27 432.53,330.06 432.68,330.04 432.83,330.59 432.98,330.82 433.13,332.17 433.28,331.59 433.43,333.91 433.58,332.37 433.73,335.50 433.88,333.14 434.03,334.78 434.18,333.92 434.33,335.72 434.48,334.68 434.63,336.23 434.78,335.42 434.93,337.07 435.08,336.16 435.23,339.59 435.38,336.89 435.53,339.58 435.68,337.63 435.83,339.21 435.98,338.36 436.13,339.00 436.28,338.38 436.43,342.74 436.58,338.38 436.73,342.99 436.88,338.38 437.03,344.42 437.18,338.38 437.33,340.72 437.48,338.38 437.63,344.14 437.78,338.26 437.93,348.89 438.08,337.88 438.23,346.12 438.38,337.50 438.53,351.88 438.68,337.12 438.83,340.28 438.98,336.74 439.13,352.84 439.28,336.36 439.43,337.41 439.58,335.98 439.73,343.27 439.88,335.60 440.03,335.97 440.18,335.22 440.33,348.47 440.48,334.93 440.63,346.25 440.78,334.78 440.93,350.01 441.08,334.63 441.23,347.20 441.38,334.48 441.53,348.78 441.68,334.33 441.83,342.72 441.98,334.18 442.13,348.42 442.28,334.03 442.43,344.88 442.58,333.88 442.73,339.18 442.88,333.73 443.03,347.13 443.18,333.58 443.33,339.17 443.48,333.43 443.63,336.43 443.78,333.24 443.93,334.43 444.08,332.98 444.23,339.57 444.38,332.73 444.53,335.68 444.68,332.48 444.83,344.74 444.98,332.22 445.13,344.47 445.28,331.97 445.43,335.05 445.58,331.72 445.73,333.21 445.88,331.47 446.03,338.24 446.18,331.21 446.33,333.52 446.48,331.06 446.63,337.72 446.78,331.00 446.93,340.10 447.08,330.94 447.23,333.86 447.38,330.89 447.53,335.13 447.68,330.83 447.83,338.47 447.98,330.77 448.13,334.39 448.28,330.71 448.43,333.25 448.58,330.66 448.73,335.91 448.88,330.60 449.03,334.75 449.18,330.52 449.33,334.93 449.48,330.41 449.63,333.81 449.78,330.31 449.93,332.39 450.08,330.21 450.23,333.47 450.38,330.10 450.53,333.87 450.68,330.00 450.83,332.90 450.98,329.90 451.13,331.03 451.28,329.79 451.43,331.14 451.58,329.69 451.73,331.48 451.88,329.59 452.03,332.70 452.18,329.48 452.33,331.76 452.48,329.48 452.63,331.82 452.78,329.54 452.93,332.94 453.08,329.59 453.23,330.17 453.38,329.65 453.53,332.39 453.68,329.71 453.83,331.27 453.98,329.77 454.13,332.28 454.28,329.82 454.43,333.45 454.58,329.88 454.73,331.13 454.88,329.94 455.03,334.10 455.18,330.24 455.33,330.85 455.48,330.66 455.63,333.06 455.78,331.08 455.93,333.41 456.08,331.50 456.23,332.71 456.38,331.92 456.53,334.31 456.68,332.34 456.83,334.41 456.98,332.76 457.13,334.75 457.28,333.18 457.43,336.11 457.58,333.60 457.73,333.84 457.88,333.98 458.03,335.70 458.18,334.30 458.33,337.55 458.48,334.62 458.63,335.46 458.78,334.94 458.93,338.54 459.08,335.26 459.23,336.33 459.38,335.58 459.53,338.35 459.68,335.90 459.83,336.80 459.98,336.22 460.13,338.07 460.28,336.54 460.43,338.24 460.58,336.86 460.73,337.36 460.88,337.18 461.03,339.60 461.18,337.45 461.33,339.17 461.48,337.70 461.63,340.01 461.78,337.96 461.93,339.80 462.08,338.21 462.23,340.06 462.38,338.46 462.53,340.18 462.68,338.72 462.83,339.76 462.98,338.97 463.13,341.50 463.28,339.22 463.43,339.63 463.58,339.48 463.73,341.78 463.88,339.73 464.03,341.92 464.18,339.99 464.33,341.30 464.48,340.11 464.63,342.05 464.78,340.22 464.93,341.97 465.08,340.32 465.23,341.95 465.38,340.42 465.53,341.29 465.68,340.53 465.83,341.44 465.98,340.63 466.13,341.59 466.28,340.73 466.43,341.57 466.58,340.84 466.73,343.04 466.88,340.94 467.03,341.82 467.18,341.04 467.33,342.00 467.48,341.15 467.63,342.07 467.78,340.92 467.93,342.89 468.08,340.66 468.23,341.99 468.38,340.40 468.53,342.11 468.68,340.14 468.83,341.03 468.98,339.88 469.13,340.97 469.28,339.62 469.43,339.97 469.58,339.36 469.73,340.39 469.88,339.09 470.03,340.46 470.18,338.83 470.33,343.32 470.48,338.57 470.63,341.51 470.78,338.33 470.93,339.07 471.08,338.15 471.23,341.21 471.38,337.97 471.53,338.86 471.68,337.79 471.83,341.81 471.98,337.61 472.13,340.91 472.28,337.43 472.43,343.67 472.58,337.25 472.73,339.38 472.88,337.07 473.03,343.62 473.18,336.89 473.33,339.05 473.48,336.71 473.63,344.59 473.78,336.53 473.93,341.97 474.08,336.47 474.23,336.93 474.38,336.41 474.53,343.32 474.68,336.35 474.83,338.99 474.98,336.29 475.13,339.71 475.28,336.24 475.43,337.75 475.58,336.18 475.73,343.61 475.88,336.12 476.03,337.10 476.18,336.06 476.33,342.82 476.48,336.10 476.63,340.07 476.78,336.32 476.93,342.66 477.08,336.53 477.23,339.55 477.38,336.75 477.53,337.73 477.68,336.96 477.83,345.06 477.98,337.18 478.13,343.15 478.28,337.39 478.43,339.23 478.58,337.61 478.73,346.00 478.88,337.82 479.03,345.67 479.18,338.10 479.33,340.03 479.48,338.40 479.63,338.78 479.78,338.70 479.93,343.95 480.08,338.99 480.23,340.47 480.38,339.29 480.53,345.23 480.68,339.59 480.83,343.55 480.98,339.89 481.13,345.46 481.28,340.19 481.43,344.70 481.58,340.52 481.73,346.47 481.88,341.04 482.03,347.32 482.18,341.57 482.33,346.37 482.48,342.09 482.63,346.81 482.78,342.62 482.93,345.49 483.08,343.14 483.23,344.57 483.38,343.67 483.53,344.76 483.68,344.19 483.83,350.63 483.98,344.72 484.13,346.70 484.28,345.38 484.43,349.07 484.58,346.16 484.73,349.08 484.88,346.95 485.03,351.95 485.18,347.73 485.33,352.15 485.48,348.52 485.63,355.09 485.78,349.30 485.93,353.10 486.08,350.19 486.23,353.49 486.38,351.08 486.53,356.40 486.68,351.98 486.83,357.95 486.98,352.87 487.13,360.07 487.28,353.77 487.43,356.76 487.58,354.66 487.73,361.27" fill="none" stroke="#0072bd" stroke-width="0.55" stroke-linejoin="round" stroke-opacity="1.0"/>
<polyline points="419.78,306.94 422.96,312.59 426.24,318.14 429.53,323.79 432.21,330.47 434.40,336.12" fill="none" stroke="#0072bd" stroke-width="1.6" stroke-linejoin="round" stroke-opacity="1.0"/>
<polyline points="440.36,336.43 443.65,334.79 446.33,332.53 449.02,332.01 452.30,330.88 454.98,331.40 457.77,335.30 460.95,338.69 464.23,341.47 467.51,342.60 470.70,339.82 473.78,337.97 476.36,337.46 478.95,339.31 481.53,341.88 484.12,346.40 485.81,350.82" fill="none" stroke="#0072bd" stroke-width="1.8" stroke-linejoin="round" stroke-opacity="1.0"/>
<path d="M424.65 316.80V350.20 M427.93 318.86V336.74 M438.18 339.41V362.53 M440.86 335.30V355.75 M444.14 334.27V353.49 M446.33 332.22V344.55 M472.39 338.38V345.68 M439.37 338.38V358.93 M442.35 334.27V355.85 M445.34 332.22V350.71 M447.33 331.19V347.63 M402.97 316.80V337.25 M406.55 310.64V329.85 M408.54 306.53V327.08 M400.59 320.92V334.27" stroke="#2f86cc" stroke-width="0.78" stroke-opacity="1.0" fill="none"/>
<polyline points="487.60,354.72 488.40,374.35 490.09,353.80 491.38,368.08 492.27,347.63 493.17,372.50 493.97,342.29 495.26,368.08 496.55,338.69 497.45,356.47 498.74,339.62 500.03,337.87 501.32,344.04 502.62,356.47 503.71,358.32 505.20,356.47" fill="none" stroke="#2f86cc" stroke-width="1.08" stroke-linejoin="round" stroke-opacity="1.0"/>
<polyline points="488.89,362.02 489.49,353.80 490.68,370.24 491.88,353.80 492.77,367.16 493.57,345.58 494.56,364.07 495.85,342.49 496.95,351.74" fill="none" stroke="#2f86cc" stroke-width="0.81" stroke-linejoin="round" stroke-opacity="1.0"/>
<polyline points="50.50,583.10 143.60,583.10 143.60,479.30 143.60,583.10 237.40,583.10" fill="none" stroke="#2f86cc" stroke-width="1.35" stroke-linejoin="round" stroke-opacity="1.0"/>
<polygon points="50.60,583.10 55.00,583.10 68.00,583.10 85.40,583.10 85.40,585.00 80.00,587.00 76.00,589.00 72.00,588.00 68.00,588.00 66.00,589.00 62.00,590.00 58.00,591.00 55.00,590.00 53.50,594.00 52.00,598.00 50.60,596.00" fill="#0072bd" fill-opacity="0.3" stroke="none"/>
<polyline points="50.60,583.10 50.77,583.17 50.95,583.10 51.12,584.09 51.30,583.10 51.48,587.71 51.65,583.10 51.83,592.39 52.00,583.10 52.18,584.45 52.35,583.10 52.53,584.08 52.70,583.10 52.88,585.27 53.05,583.10 53.23,591.44 53.40,583.10 53.58,584.18 53.75,583.10 53.93,589.91 54.10,583.10 54.28,588.49 54.45,583.10 54.63,583.82 54.80,583.10 54.98,586.39 55.15,583.10 55.33,585.77 55.50,583.10 55.68,585.56 55.85,583.10 56.03,590.31 56.20,583.10 56.38,583.53 56.55,583.10 56.73,583.17 56.90,583.10 57.08,590.15 57.25,583.10 57.43,585.69 57.60,583.10 57.78,584.22 57.95,583.10 58.13,585.18 58.30,583.10 58.48,585.42 58.65,583.10 58.83,590.38 59.00,583.10 59.18,584.27 59.35,583.10 59.53,584.30 59.70,583.10 59.88,587.00 60.05,583.10 60.23,586.66 60.40,583.10 60.58,589.96 60.75,583.10 60.93,588.90 61.10,583.10 61.28,585.15 61.45,583.10 61.63,584.14 61.80,583.10 61.98,588.67 62.15,583.10 62.33,589.83 62.50,583.10 62.68,583.20 62.85,583.10 63.03,587.69 63.20,583.10 63.38,588.63 63.55,583.10 63.73,586.97 63.90,583.10 64.08,584.13 64.25,583.10 64.43,587.89 64.60,583.10 64.78,587.35 64.95,583.10 65.13,583.95 65.30,583.10 65.48,586.64 65.65,583.10 65.83,584.06 66.00,583.10 66.18,583.23 66.35,583.10 66.53,584.62 66.70,583.10 66.88,584.57 67.05,583.10 67.23,584.84 67.40,583.10 67.58,586.13 67.75,583.10 67.92,587.08 68.10,583.10 68.27,587.77 68.45,583.10 68.62,587.86 68.80,583.10 68.97,587.96 69.15,583.10 69.32,586.79 69.50,583.10 69.67,584.28 69.85,583.10 70.02,583.71 70.20,583.10 70.37,585.88 70.55,583.10 70.72,585.47 70.90,583.10 71.07,586.15 71.25,583.10 71.42,583.39 71.60,583.10 71.77,583.78 71.95,583.10 72.12,587.57 72.30,583.10 72.47,585.83 72.65,583.10 72.82,586.40 73.00,583.10 73.17,583.41 73.35,583.10 73.52,584.85 73.70,583.10 73.87,587.89 74.05,583.10 74.22,586.35 74.40,583.10 74.57,588.59 74.75,583.10 74.92,583.90 75.10,583.10 75.27,585.32 75.45,583.10 75.62,587.55 75.80,583.10 75.97,585.33 76.15,583.10 76.32,587.42 76.50,583.10 76.67,585.88 76.85,583.10 77.02,583.51 77.20,583.10 77.37,583.42 77.55,583.10 77.72,588.03 77.90,583.10 78.07,583.48 78.25,583.10 78.42,583.76 78.60,583.10 78.77,584.32 78.95,583.10 79.12,585.99 79.30,583.10 79.47,586.54 79.65,583.10 79.82,584.73 80.00,583.10 80.17,584.76 80.35,583.10 80.52,585.89 80.70,583.10 80.87,583.87 81.05,583.10 81.22,584.15 81.40,583.10 81.57,584.94 81.75,583.10 81.92,584.95 82.10,583.10 82.27,583.16 82.45,583.10 82.62,583.31 82.80,583.10 82.97,583.36 83.15,583.10 83.32,584.91 83.50,583.10 83.67,584.73 83.85,583.10 84.02,585.43 84.20,583.10 84.37,584.76 84.55,583.10 84.72,583.52 84.90,583.10 85.07,584.57 85.25,583.10 85.42,584.97" fill="none" stroke="#0072bd" stroke-width="0.55" stroke-linejoin="round" stroke-opacity="1.0"/>
<polyline points="56.00,583.10 56.15,583.95 56.30,583.10 56.45,584.65 56.60,583.10 56.75,585.11 56.90,583.10 57.05,586.85 57.20,583.10 57.35,586.09 57.50,583.10 57.65,586.96 57.80,583.10 57.95,584.64 58.10,583.10 58.25,586.77 58.40,583.10 58.55,588.10 58.70,583.10 58.85,587.26 59.00,583.10 59.15,588.98 59.30,583.10 59.45,589.06 59.60,583.10 59.75,587.15 59.90,583.10 60.05,583.29 60.20,583.10 60.35,588.87 60.50,583.10 60.65,585.38 60.80,583.10 60.95,583.70 61.10,583.10 61.25,588.20 61.40,583.10 61.55,588.37 61.70,583.10 61.85,588.14 62.00,583.10 62.15,588.26 62.30,583.10 62.45,585.37 62.60,583.10 62.75,584.48 62.90,583.10 63.05,584.70 63.20,583.10 63.35,587.44 63.50,583.10 63.65,584.49 63.80,583.10 63.95,584.67" fill="none" stroke="#0072bd" stroke-width="0.6" stroke-linejoin="round" stroke-opacity="1.0"/>
<path d="M51.90 583.00V620.50 M53.10 583.00V598.20 M54.10 583.00V595.00 M50.90 583.00V597.00 M68.00 583.00V638.60 M60.50 583.00V591.00 M63.50 583.00V590.00 M67.00 583.00V591.50 M71.50 583.00V591.00 M75.50 583.00V589.50 M78.50 583.00V591.00 M82.00 583.00V588.50 M84.50 583.00V587.00" stroke="#2f86cc" stroke-width="0.78" stroke-opacity="1.0" fill="none"/>
<path d="M117.70 583.00V610.20 M168.40 583.00V594.60 M170.50 583.00V598.60 M169.40 583.00V587.00" stroke="#2f86cc" stroke-width="0.9099999999999999" stroke-opacity="1.0" fill="none"/>
<path d="M194.30 583.00V601.70 M195.40 583.00V602.30 M196.50 583.00V603.90 M197.50 583.00V594.60 M199.20 583.00V611.00 M200.30 583.00V595.70 M201.40 583.00V600.10 M202.50 583.00V604.50 M203.50 583.00V601.20 M205.20 583.00V591.40 M207.90 583.00V596.80 M209.00 583.00V611.50 M210.10 583.00V587.00 M213.00 583.00V585.40 M215.00 583.00V585.40 M217.00 583.00V585.00 M223.20 583.00V601.70 M224.80 583.00V589.20 M225.90 583.00V596.80 M227.50 583.00V607.70 M228.60 583.00V592.50 M229.70 583.00V591.40 M230.80 583.00V594.60 M231.90 583.00V595.70 M233.00 583.00V596.80 M234.10 583.00V598.50 M235.40 583.00V622.50 M236.30 583.00V596.80 M237.10 583.00V604.50 M194.90 583.00V596.00 M198.30 583.00V593.00 M232.50 583.00V593.00 M233.60 583.00V594.00 M234.70 583.00V596.00" stroke="#2f86cc" stroke-width="0.65" stroke-opacity="1.0" fill="none"/>
<polyline points="231.00,583.10 231.15,587.96 231.30,583.10 231.45,588.76 231.60,583.10 231.75,590.39 231.90,583.10 232.05,586.77 232.20,583.10 232.35,590.22 232.50,583.10 232.65,592.51 232.80,583.10 232.95,593.20 233.10,583.10 233.25,586.39 233.40,583.10 233.55,590.77 233.70,583.10 233.85,590.27 234.00,583.10 234.15,589.13 234.30,583.10 234.45,592.33 234.60,583.10 234.75,588.95 234.90,583.10 235.05,588.09 235.20,583.10 235.35,590.97 235.50,583.10 235.65,588.63 235.80,583.10 235.95,586.12 236.10,583.10 236.25,585.91 236.40,583.10 236.55,586.65 236.70,583.10 236.85,583.76" fill="none" stroke="#0072bd" stroke-width="0.6" stroke-linejoin="round" stroke-opacity="1.0"/>
<polyline points="326.90,584.60 418.97,584.60 418.97,478.70 418.97,584.60 511.73,584.60" fill="none" stroke="#2f86cc" stroke-width="1.35" stroke-linejoin="round" stroke-opacity="1.0"/>
<polygon points="326.99,584.60 331.35,584.60 344.20,584.60 361.41,584.60 361.41,586.53 356.07,588.57 352.11,590.61 348.16,589.59 344.20,589.59 342.22,590.61 338.27,591.63 334.31,592.65 331.35,591.63 329.86,595.71 328.38,599.80 326.99,597.76" fill="#0072bd" fill-opacity="0.3" stroke="none"/>
<polyline points="326.99,584.60 327.17,584.66 327.34,584.60 327.52,585.61 327.69,584.60 327.87,589.30 328.04,584.60 328.22,594.08 328.39,584.60 328.57,585.97 328.74,584.60 328.92,585.59 329.09,584.60 329.27,586.80 329.44,584.60 329.62,593.04 329.79,584.60 329.97,585.68 330.14,584.60 330.32,591.47 330.49,584.60 330.67,590.02 330.84,584.60 331.02,585.32 331.19,584.60 331.37,587.93 331.54,584.60 331.72,587.33 331.89,584.60 332.07,587.11 332.24,584.60 332.42,591.97 332.59,584.60 332.77,585.03 332.94,584.60 333.12,584.67 333.29,584.60 333.47,591.81 333.64,584.60 333.82,587.25 333.99,584.60 334.17,585.75 334.34,584.60 334.52,586.71 334.69,584.60 334.87,586.96 335.04,584.60 335.22,592.00 335.39,584.60 335.57,585.79 335.74,584.60 335.92,585.82 336.09,584.60 336.27,588.56 336.44,584.60 336.62,588.22 336.79,584.60 336.97,591.56 337.14,584.60 337.32,590.49 337.49,584.60 337.67,586.67 337.84,584.60 338.02,585.65 338.19,584.60 338.37,590.26 338.54,584.60 338.72,591.43 338.89,584.60 339.07,584.70 339.24,584.60 339.42,589.26 339.59,584.60 339.77,590.21 339.94,584.60 340.12,588.52 340.29,584.60 340.47,585.64 340.64,584.60 340.82,589.45 340.99,584.60 341.17,588.91 341.34,584.60 341.52,585.46 341.69,584.60 341.87,588.18 342.04,584.60 342.22,585.57 342.39,584.60 342.57,584.72 342.74,584.60 342.92,586.12 343.09,584.60 343.27,586.07 343.44,584.60 343.62,586.34 343.79,584.60 343.97,587.63 344.14,584.60 344.32,588.63 344.49,584.60 344.67,589.36 344.84,584.60 345.02,589.45 345.19,584.60 345.37,589.56 345.54,584.60 345.72,588.36 345.89,584.60 346.07,585.80 346.24,584.60 346.42,585.22 346.59,584.60 346.77,587.43 346.94,584.60 347.12,587.01 347.29,584.60 347.47,587.71 347.64,584.60 347.82,584.89 347.99,584.60 348.17,585.29 348.34,584.60 348.52,589.21 348.69,584.60 348.87,587.41 349.04,584.60 349.22,588.00 349.39,584.60 349.57,584.92 349.74,584.60 349.92,586.41 350.09,584.60 350.27,589.55 350.44,584.60 350.62,587.95 350.79,584.60 350.97,590.26 351.14,584.60 351.32,585.42 351.49,584.60 351.67,586.89 351.84,584.60 352.02,589.19 352.19,584.60 352.37,586.82 352.54,584.60 352.72,588.89 352.89,584.60 353.07,587.36 353.24,584.60 353.42,585.01 353.59,584.60 353.77,584.92 353.94,584.60 354.12,589.48 354.29,584.60 354.47,584.97 354.64,584.60 354.82,585.24 354.99,584.60 355.17,585.79 355.34,584.60 355.52,587.44 355.69,584.60 355.87,587.97 356.04,584.60 356.22,586.20 356.39,584.60 356.57,586.24 356.74,584.60 356.92,587.34 357.09,584.60 357.27,585.35 357.44,584.60 357.62,585.63 357.79,584.60 357.97,586.40 358.14,584.60 358.32,586.41 358.49,584.60 358.67,584.65 358.84,584.60 359.02,584.80 359.19,584.60 359.37,584.85 359.54,584.60 359.72,586.35 359.89,584.60 360.07,586.17 360.24,584.60 360.42,586.84 360.59,584.60 360.77,586.18 360.94,584.60 361.12,584.99 361.29,584.60 361.47,586.00" fill="none" stroke="#0072bd" stroke-width="0.55" stroke-linejoin="round" stroke-opacity="1.0"/>
<polyline points="332.33,584.60 332.48,585.46 332.63,584.60 332.78,586.18 332.93,584.60 333.08,586.65 333.23,584.60 333.38,588.43 333.53,584.60 333.68,587.66 333.83,584.60 333.98,588.55 334.13,584.60 334.28,586.17 334.43,584.60 334.58,588.36 334.73,584.60 334.88,589.73 335.03,584.60 335.18,588.86 335.33,584.60 335.48,590.63 335.63,584.60 335.78,590.72 335.93,584.60 336.08,588.75 336.23,584.60 336.38,584.79 336.53,584.60 336.68,590.45 336.83,584.60 336.98,586.91 337.13,584.60 337.28,585.20 337.43,584.60 337.58,589.76 337.73,584.60 337.88,589.93 338.03,584.60 338.18,589.69 338.33,584.60 338.48,589.81 338.63,584.60 338.78,586.89 338.93,584.60 339.08,585.99 339.23,584.60 339.38,586.21 339.53,584.60 339.68,588.96 339.83,584.60 339.98,585.99 340.13,584.60 340.28,586.18" fill="none" stroke="#0072bd" stroke-width="0.6" stroke-linejoin="round" stroke-opacity="1.0"/>
<path d="M328.28 584.49V622.75 M329.47 584.49V600.00 M330.46 584.49V596.73 M327.29 584.49V598.78 M344.20 584.49V641.21 M336.79 584.49V592.65 M339.75 584.49V591.63 M343.21 584.49V593.16 M347.66 584.49V592.65 M351.62 584.49V591.12 M354.59 584.49V592.65 M358.05 584.49V590.10 M360.52 584.49V588.57" stroke="#2f86cc" stroke-width="0.78" stroke-opacity="1.0" fill="none"/>
<path d="M393.35 584.49V612.24 M443.49 584.49V596.33 M445.57 584.49V600.41 M444.48 584.49V588.57" stroke="#2f86cc" stroke-width="0.9099999999999999" stroke-opacity="1.0" fill="none"/>
<path d="M469.11 584.49V603.57 M470.20 584.49V604.18 M471.28 584.49V605.81 M472.27 584.49V596.33 M473.95 584.49V613.06 M475.04 584.49V597.45 M476.13 584.49V601.94 M477.22 584.49V606.43 M478.21 584.49V603.06 M479.89 584.49V593.06 M482.56 584.49V598.57 M483.65 584.49V613.57 M484.73 584.49V588.57 M487.60 584.49V586.94 M489.58 584.49V586.94 M491.56 584.49V586.53 M497.69 584.49V603.57 M499.27 584.49V590.82 M500.36 584.49V598.57 M501.94 584.49V609.69 M503.03 584.49V594.18 M504.12 584.49V593.06 M505.20 584.49V596.33 M506.29 584.49V597.45 M507.38 584.49V598.57 M508.47 584.49V600.31 M509.75 584.49V624.79 M510.64 584.49V598.57 M511.43 584.49V606.43 M469.70 584.49V597.76 M473.06 584.49V594.69 M506.89 584.49V594.69 M507.97 584.49V595.71 M509.06 584.49V597.76" stroke="#2f86cc" stroke-width="0.65" stroke-opacity="1.0" fill="none"/>
<polyline points="505.40,584.60 505.55,589.56 505.70,584.60 505.85,590.38 506.00,584.60 506.15,592.05 506.30,584.60 506.45,588.35 506.60,584.60 506.75,591.88 506.90,584.60 507.05,594.23 507.20,584.60 507.35,594.94 507.50,584.60 507.65,587.94 507.80,584.60 507.95,592.40 508.10,584.60 508.25,591.88 508.40,584.60 508.55,590.72 508.70,584.60 508.85,593.97 509.00,584.60 509.15,590.54 509.30,584.60 509.45,589.64 509.60,584.60 509.75,592.53 509.90,584.60 510.05,590.16 510.20,584.60 510.35,587.63 510.50,584.60 510.65,587.41 510.80,584.60 510.95,588.14 511.10,584.60 511.25,585.25" fill="none" stroke="#0072bd" stroke-width="0.6" stroke-linejoin="round" stroke-opacity="1.0"/>
<rect x="32.00" y="24.00" width="213.20" height="171.30" fill="none" stroke="#666666" stroke-width="1.2"/>
<line x1="32.00" y1="195.30" x2="32.00" y2="193.30" stroke="#666666" stroke-width="0.9"/>
<line x1="32.00" y1="24.00" x2="32.00" y2="26.00" stroke="#666666" stroke-width="0.9"/>
<text class="t" x="32.00" y="205.90" text-anchor="middle" font-family='"Liberation Sans", Arial, sans-serif' font-size="6.4" fill="#1a1a1a">400</text>
<line x1="55.69" y1="195.30" x2="55.69" y2="193.30" stroke="#666666" stroke-width="0.9"/>
<line x1="55.69" y1="24.00" x2="55.69" y2="26.00" stroke="#666666" stroke-width="0.9"/>
<text class="t" x="55.69" y="205.90" text-anchor="middle" font-family='"Liberation Sans", Arial, sans-serif' font-size="6.4" fill="#1a1a1a">600</text>
<line x1="79.38" y1="195.30" x2="79.38" y2="193.30" stroke="#666666" stroke-width="0.9"/>
<line x1="79.38" y1="24.00" x2="79.38" y2="26.00" stroke="#666666" stroke-width="0.9"/>
<text class="t" x="79.38" y="205.90" text-anchor="middle" font-family='"Liberation Sans", Arial, sans-serif' font-size="6.4" fill="#1a1a1a">800</text>
<line x1="103.07" y1="195.30" x2="103.07" y2="193.30" stroke="#666666" stroke-width="0.9"/>
<line x1="103.07" y1="24.00" x2="103.07" y2="26.00" stroke="#666666" stroke-width="0.9"/>
<text class="t" x="103.07" y="205.90" text-anchor="middle" font-family='"Liberation Sans", Arial, sans-serif' font-size="6.4" fill="#1a1a1a">1000</text>
<line x1="126.76" y1="195.30" x2="126.76" y2="193.30" stroke="#666666" stroke-width="0.9"/>
<line x1="126.76" y1="24.00" x2="126.76" y2="26.00" stroke="#666666" stroke-width="0.9"/>
<text class="t" x="126.76" y="205.90" text-anchor="middle" font-family='"Liberation Sans", Arial, sans-serif' font-size="6.4" fill="#1a1a1a">1200</text>
<line x1="150.44" y1="195.30" x2="150.44" y2="193.30" stroke="#666666" stroke-width="0.9"/>
<line x1="150.44" y1="24.00" x2="150.44" y2="26.00" stroke="#666666" stroke-width="0.9"/>
<text class="t" x="150.44" y="205.90" text-anchor="middle" font-family='"Liberation Sans", Arial, sans-serif' font-size="6.4" fill="#1a1a1a">1400</text>
<line x1="174.13" y1="195.30" x2="174.13" y2="193.30" stroke="#666666" stroke-width="0.9"/>
<line x1="174.13" y1="24.00" x2="174.13" y2="26.00" stroke="#666666" stroke-width="0.9"/>
<text class="t" x="174.13" y="205.90" text-anchor="middle" font-family='"Liberation Sans", Arial, sans-serif' font-size="6.4" fill="#1a1a1a">1600</text>
<line x1="197.82" y1="195.30" x2="197.82" y2="193.30" stroke="#666666" stroke-width="0.9"/>
<line x1="197.82" y1="24.00" x2="197.82" y2="26.00" stroke="#666666" stroke-width="0.9"/>
<text class="t" x="197.82" y="205.90" text-anchor="middle" font-family='"Liberation Sans", Arial, sans-serif' font-size="6.4" fill="#1a1a1a">1800</text>
<line x1="221.51" y1="195.30" x2="221.51" y2="193.30" stroke="#666666" stroke-width="0.9"/>
<line x1="221.51" y1="24.00" x2="221.51" y2="26.00" stroke="#666666" stroke-width="0.9"/>
<text class="t" x="221.51" y="205.90" text-anchor="middle" font-family='"Liberation Sans", Arial, sans-serif' font-size="6.4" fill="#1a1a1a">2000</text>
<line x1="245.20" y1="195.30" x2="245.20" y2="193.30" stroke="#666666" stroke-width="0.9"/>
<line x1="245.20" y1="24.00" x2="245.20" y2="26.00" stroke="#666666" stroke-width="0.9"/>
<text class="t" x="245.20" y="205.90" text-anchor="middle" font-family='"Liberation Sans", Arial, sans-serif' font-size="6.4" fill="#1a1a1a">2200</text>
<line x1="32.00" y1="195.30" x2="34.00" y2="195.30" stroke="#666666" stroke-width="0.9"/>
<line x1="245.20" y1="195.30" x2="243.20" y2="195.30" stroke="#666666" stroke-width="0.9"/>
<text class="t" x="29.20" y="198.21" text-anchor="end" font-family='"Liberation Sans", Arial, sans-serif' font-size="6.4" fill="#1a1a1a">-90</text>
<line x1="32.00" y1="176.27" x2="34.00" y2="176.27" stroke="#666666" stroke-width="0.9"/>
<line x1="245.20" y1="176.27" x2="243.20" y2="176.27" stroke="#666666" stroke-width="0.9"/>
<text class="t" x="29.20" y="179.18" text-anchor="end" font-family='"Liberation Sans", Arial, sans-serif' font-size="6.4" fill="#1a1a1a">-80</text>
<line x1="32.00" y1="157.23" x2="34.00" y2="157.23" stroke="#666666" stroke-width="0.9"/>
<line x1="245.20" y1="157.23" x2="243.20" y2="157.23" stroke="#666666" stroke-width="0.9"/>
<text class="t" x="29.20" y="160.15" text-anchor="end" font-family='"Liberation Sans", Arial, sans-serif' font-size="6.4" fill="#1a1a1a">-70</text>
<line x1="32.00" y1="138.20" x2="34.00" y2="138.20" stroke="#666666" stroke-width="0.9"/>
<line x1="245.20" y1="138.20" x2="243.20" y2="138.20" stroke="#666666" stroke-width="0.9"/>
<text class="t" x="29.20" y="141.11" text-anchor="end" font-family='"Liberation Sans", Arial, sans-serif' font-size="6.4" fill="#1a1a1a">-60</text>
<line x1="32.00" y1="119.17" x2="34.00" y2="119.17" stroke="#666666" stroke-width="0.9"/>
<line x1="245.20" y1="119.17" x2="243.20" y2="119.17" stroke="#666666" stroke-width="0.9"/>
<text class="t" x="29.20" y="122.08" text-anchor="end" font-family='"Liberation Sans", Arial, sans-serif' font-size="6.4" fill="#1a1a1a">-50</text>
<line x1="32.00" y1="100.13" x2="34.00" y2="100.13" stroke="#666666" stroke-width="0.9"/>
<line x1="245.20" y1="100.13" x2="243.20" y2="100.13" stroke="#666666" stroke-width="0.9"/>
<text class="t" x="29.20" y="103.05" text-anchor="end" font-family='"Liberation Sans", Arial, sans-serif' font-size="6.4" fill="#1a1a1a">-40</text>
<line x1="32.00" y1="81.10" x2="34.00" y2="81.10" stroke="#666666" stroke-width="0.9"/>
<line x1="245.20" y1="81.10" x2="243.20" y2="81.10" stroke="#666666" stroke-width="0.9"/>
<text class="t" x="29.20" y="84.01" text-anchor="end" font-family='"Liberation Sans", Arial, sans-serif' font-size="6.4" fill="#1a1a1a">-30</text>
<line x1="32.00" y1="62.07" x2="34.00" y2="62.07" stroke="#666666" stroke-width="0.9"/>
<line x1="245.20" y1="62.07" x2="243.20" y2="62.07" stroke="#666666" stroke-width="0.9"/>
<text class="t" x="29.20" y="64.98" text-anchor="end" font-family='"Liberation Sans", Arial, sans-serif' font-size="6.4" fill="#1a1a1a">-20</text>
<line x1="32.00" y1="43.03" x2="34.00" y2="43.03" stroke="#666666" stroke-width="0.9"/>
<line x1="245.20" y1="43.03" x2="243.20" y2="43.03" stroke="#666666" stroke-width="0.9"/>
<text class="t" x="29.20" y="45.95" text-anchor="end" font-family='"Liberation Sans", Arial, sans-serif' font-size="6.4" fill="#1a1a1a">-10</text>
<line x1="32.00" y1="24.00" x2="34.00" y2="24.00" stroke="#666666" stroke-width="0.9"/>
<line x1="245.20" y1="24.00" x2="243.20" y2="24.00" stroke="#666666" stroke-width="0.9"/>
<text class="t" x="29.20" y="26.91" text-anchor="end" font-family='"Liberation Sans", Arial, sans-serif' font-size="6.4" fill="#1a1a1a">0</text>
<rect x="306.60" y="24.40" width="212.90" height="171.80" fill="none" stroke="#666666" stroke-width="1.2"/>
<line x1="306.60" y1="196.20" x2="306.60" y2="194.20" stroke="#666666" stroke-width="0.9"/>
<line x1="306.60" y1="24.40" x2="306.60" y2="26.40" stroke="#666666" stroke-width="0.9"/>
<text class="t" x="306.60" y="206.10" text-anchor="middle" font-family='"Liberation Sans", Arial, sans-serif' font-size="6.4" fill="#1a1a1a">400</text>
<line x1="330.26" y1="196.20" x2="330.26" y2="194.20" stroke="#666666" stroke-width="0.9"/>
<line x1="330.26" y1="24.40" x2="330.26" y2="26.40" stroke="#666666" stroke-width="0.9"/>
<text class="t" x="330.26" y="206.10" text-anchor="middle" font-family='"Liberation Sans", Arial, sans-serif' font-size="6.4" fill="#1a1a1a">600</text>
<line x1="353.91" y1="196.20" x2="353.91" y2="194.20" stroke="#666666" stroke-width="0.9"/>
<line x1="353.91" y1="24.40" x2="353.91" y2="26.40" stroke="#666666" stroke-width="0.9"/>
<text class="t" x="353.91" y="206.10" text-anchor="middle" font-family='"Liberation Sans", Arial, sans-serif' font-size="6.4" fill="#1a1a1a">800</text>
<line x1="377.57" y1="196.20" x2="377.57" y2="194.20" stroke="#666666" stroke-width="0.9"/>
<line x1="377.57" y1="24.40" x2="377.57" y2="26.40" stroke="#666666" stroke-width="0.9"/>
<text class="t" x="377.57" y="206.10" text-anchor="middle" font-family='"Liberation Sans", Arial, sans-serif' font-size="6.4" fill="#1a1a1a">1000</text>
<line x1="401.22" y1="196.20" x2="401.22" y2="194.20" stroke="#666666" stroke-width="0.9"/>
<line x1="401.22" y1="24.40" x2="401.22" y2="26.40" stroke="#666666" stroke-width="0.9"/>
<text class="t" x="401.22" y="206.10" text-anchor="middle" font-family='"Liberation Sans", Arial, sans-serif' font-size="6.4" fill="#1a1a1a">1200</text>
<line x1="424.88" y1="196.20" x2="424.88" y2="194.20" stroke="#666666" stroke-width="0.9"/>
<line x1="424.88" y1="24.40" x2="424.88" y2="26.40" stroke="#666666" stroke-width="0.9"/>
<text class="t" x="424.88" y="206.10" text-anchor="middle" font-family='"Liberation Sans", Arial, sans-serif' font-size="6.4" fill="#1a1a1a">1400</text>
<line x1="448.53" y1="196.20" x2="448.53" y2="194.20" stroke="#666666" stroke-width="0.9"/>
<line x1="448.53" y1="24.40" x2="448.53" y2="26.40" stroke="#666666" stroke-width="0.9"/>
<text class="t" x="448.53" y="206.10" text-anchor="middle" font-family='"Liberation Sans", Arial, sans-serif' font-size="6.4" fill="#1a1a1a">1600</text>
<line x1="472.19" y1="196.20" x2="472.19" y2="194.20" stroke="#666666" stroke-width="0.9"/>
<line x1="472.19" y1="24.40" x2="472.19" y2="26.40" stroke="#666666" stroke-width="0.9"/>
<text class="t" x="472.19" y="206.10" text-anchor="middle" font-family='"Liberation Sans", Arial, sans-serif' font-size="6.4" fill="#1a1a1a">1800</text>
<line x1="495.84" y1="196.20" x2="495.84" y2="194.20" stroke="#666666" stroke-width="0.9"/>
<line x1="495.84" y1="24.40" x2="495.84" y2="26.40" stroke="#666666" stroke-width="0.9"/>
<text class="t" x="495.84" y="206.10" text-anchor="middle" font-family='"Liberation Sans", Arial, sans-serif' font-size="6.4" fill="#1a1a1a">2000</text>
<line x1="519.50" y1="196.20" x2="519.50" y2="194.20" stroke="#666666" stroke-width="0.9"/>
<line x1="519.50" y1="24.40" x2="519.50" y2="26.40" stroke="#666666" stroke-width="0.9"/>
<text class="t" x="519.50" y="206.10" text-anchor="middle" font-family='"Liberation Sans", Arial, sans-serif' font-size="6.4" fill="#1a1a1a">2200</text>
<line x1="306.60" y1="196.20" x2="308.60" y2="196.20" stroke="#666666" stroke-width="0.9"/>
<line x1="519.50" y1="196.20" x2="517.50" y2="196.20" stroke="#666666" stroke-width="0.9"/>
<text class="t" x="303.80" y="199.11" text-anchor="end" font-family='"Liberation Sans", Arial, sans-serif' font-size="6.4" fill="#1a1a1a">-90</text>
<line x1="306.60" y1="177.11" x2="308.60" y2="177.11" stroke="#666666" stroke-width="0.9"/>
<line x1="519.50" y1="177.11" x2="517.50" y2="177.11" stroke="#666666" stroke-width="0.9"/>
<text class="t" x="303.80" y="180.02" text-anchor="end" font-family='"Liberation Sans", Arial, sans-serif' font-size="6.4" fill="#1a1a1a">-80</text>
<line x1="306.60" y1="158.02" x2="308.60" y2="158.02" stroke="#666666" stroke-width="0.9"/>
<line x1="519.50" y1="158.02" x2="517.50" y2="158.02" stroke="#666666" stroke-width="0.9"/>
<text class="t" x="303.80" y="160.93" text-anchor="end" font-family='"Liberation Sans", Arial, sans-serif' font-size="6.4" fill="#1a1a1a">-70</text>
<line x1="306.60" y1="138.93" x2="308.60" y2="138.93" stroke="#666666" stroke-width="0.9"/>
<line x1="519.50" y1="138.93" x2="517.50" y2="138.93" stroke="#666666" stroke-width="0.9"/>
<text class="t" x="303.80" y="141.85" text-anchor="end" font-family='"Liberation Sans", Arial, sans-serif' font-size="6.4" fill="#1a1a1a">-60</text>
<line x1="306.60" y1="119.84" x2="308.60" y2="119.84" stroke="#666666" stroke-width="0.9"/>
<line x1="519.50" y1="119.84" x2="517.50" y2="119.84" stroke="#666666" stroke-width="0.9"/>
<text class="t" x="303.80" y="122.76" text-anchor="end" font-family='"Liberation Sans", Arial, sans-serif' font-size="6.4" fill="#1a1a1a">-50</text>
<line x1="306.60" y1="100.76" x2="308.60" y2="100.76" stroke="#666666" stroke-width="0.9"/>
<line x1="519.50" y1="100.76" x2="517.50" y2="100.76" stroke="#666666" stroke-width="0.9"/>
<text class="t" x="303.80" y="103.67" text-anchor="end" font-family='"Liberation Sans", Arial, sans-serif' font-size="6.4" fill="#1a1a1a">-40</text>
<line x1="306.60" y1="81.67" x2="308.60" y2="81.67" stroke="#666666" stroke-width="0.9"/>
<line x1="519.50" y1="81.67" x2="517.50" y2="81.67" stroke="#666666" stroke-width="0.9"/>
<text class="t" x="303.80" y="84.58" text-anchor="end" font-family='"Liberation Sans", Arial, sans-serif' font-size="6.4" fill="#1a1a1a">-30</text>
<line x1="306.60" y1="62.58" x2="308.60" y2="62.58" stroke="#666666" stroke-width="0.9"/>
<line x1="519.50" y1="62.58" x2="517.50" y2="62.58" stroke="#666666" stroke-width="0.9"/>
<text class="t" x="303.80" y="65.49" text-anchor="end" font-family='"Liberation Sans", Arial, sans-serif' font-size="6.4" fill="#1a1a1a">-20</text>
<line x1="306.60" y1="43.49" x2="308.60" y2="43.49" stroke="#666666" stroke-width="0.9"/>
<line x1="519.50" y1="43.49" x2="517.50" y2="43.49" stroke="#666666" stroke-width="0.9"/>
<text class="t" x="303.80" y="46.40" text-anchor="end" font-family='"Liberation Sans", Arial, sans-serif' font-size="6.4" fill="#1a1a1a">-10</text>
<line x1="306.60" y1="24.40" x2="308.60" y2="24.40" stroke="#666666" stroke-width="0.9"/>
<line x1="519.50" y1="24.40" x2="517.50" y2="24.40" stroke="#666666" stroke-width="0.9"/>
<text class="t" x="303.80" y="27.31" text-anchor="end" font-family='"Liberation Sans", Arial, sans-serif' font-size="6.4" fill="#1a1a1a">0</text>
<rect x="31.50" y="250.50" width="216.20" height="163.30" fill="none" stroke="#666666" stroke-width="1.2"/>
<line x1="31.50" y1="413.80" x2="31.50" y2="411.80" stroke="#666666" stroke-width="0.9"/>
<line x1="31.50" y1="250.50" x2="31.50" y2="252.50" stroke="#666666" stroke-width="0.9"/>
<text class="t" x="31.50" y="423.70" text-anchor="middle" font-family='"Liberation Sans", Arial, sans-serif' font-size="6.4" fill="#1a1a1a">400</text>
<line x1="55.52" y1="413.80" x2="55.52" y2="411.80" stroke="#666666" stroke-width="0.9"/>
<line x1="55.52" y1="250.50" x2="55.52" y2="252.50" stroke="#666666" stroke-width="0.9"/>
<text class="t" x="55.52" y="423.70" text-anchor="middle" font-family='"Liberation Sans", Arial, sans-serif' font-size="6.4" fill="#1a1a1a">600</text>
<line x1="79.54" y1="413.80" x2="79.54" y2="411.80" stroke="#666666" stroke-width="0.9"/>
<line x1="79.54" y1="250.50" x2="79.54" y2="252.50" stroke="#666666" stroke-width="0.9"/>
<text class="t" x="79.54" y="423.70" text-anchor="middle" font-family='"Liberation Sans", Arial, sans-serif' font-size="6.4" fill="#1a1a1a">800</text>
<line x1="103.57" y1="413.80" x2="103.57" y2="411.80" stroke="#666666" stroke-width="0.9"/>
<line x1="103.57" y1="250.50" x2="103.57" y2="252.50" stroke="#666666" stroke-width="0.9"/>
<text class="t" x="103.57" y="423.70" text-anchor="middle" font-family='"Liberation Sans", Arial, sans-serif' font-size="6.4" fill="#1a1a1a">1000</text>
<line x1="127.59" y1="413.80" x2="127.59" y2="411.80" stroke="#666666" stroke-width="0.9"/>
<line x1="127.59" y1="250.50" x2="127.59" y2="252.50" stroke="#666666" stroke-width="0.9"/>
<text class="t" x="127.59" y="423.70" text-anchor="middle" font-family='"Liberation Sans", Arial, sans-serif' font-size="6.4" fill="#1a1a1a">1200</text>
<line x1="151.61" y1="413.80" x2="151.61" y2="411.80" stroke="#666666" stroke-width="0.9"/>
<line x1="151.61" y1="250.50" x2="151.61" y2="252.50" stroke="#666666" stroke-width="0.9"/>
<text class="t" x="151.61" y="423.70" text-anchor="middle" font-family='"Liberation Sans", Arial, sans-serif' font-size="6.4" fill="#1a1a1a">1400</text>
<line x1="175.63" y1="413.80" x2="175.63" y2="411.80" stroke="#666666" stroke-width="0.9"/>
<line x1="175.63" y1="250.50" x2="175.63" y2="252.50" stroke="#666666" stroke-width="0.9"/>
<text class="t" x="175.63" y="423.70" text-anchor="middle" font-family='"Liberation Sans", Arial, sans-serif' font-size="6.4" fill="#1a1a1a">1600</text>
<line x1="199.66" y1="413.80" x2="199.66" y2="411.80" stroke="#666666" stroke-width="0.9"/>
<line x1="199.66" y1="250.50" x2="199.66" y2="252.50" stroke="#666666" stroke-width="0.9"/>
<text class="t" x="199.66" y="423.70" text-anchor="middle" font-family='"Liberation Sans", Arial, sans-serif' font-size="6.4" fill="#1a1a1a">1800</text>
<line x1="223.68" y1="413.80" x2="223.68" y2="411.80" stroke="#666666" stroke-width="0.9"/>
<line x1="223.68" y1="250.50" x2="223.68" y2="252.50" stroke="#666666" stroke-width="0.9"/>
<text class="t" x="223.68" y="423.70" text-anchor="middle" font-family='"Liberation Sans", Arial, sans-serif' font-size="6.4" fill="#1a1a1a">2000</text>
<line x1="247.70" y1="413.80" x2="247.70" y2="411.80" stroke="#666666" stroke-width="0.9"/>
<line x1="247.70" y1="250.50" x2="247.70" y2="252.50" stroke="#666666" stroke-width="0.9"/>
<text class="t" x="247.70" y="423.70" text-anchor="middle" font-family='"Liberation Sans", Arial, sans-serif' font-size="6.4" fill="#1a1a1a">2200</text>
<line x1="31.50" y1="413.80" x2="33.50" y2="413.80" stroke="#666666" stroke-width="0.9"/>
<line x1="247.70" y1="413.80" x2="245.70" y2="413.80" stroke="#666666" stroke-width="0.9"/>
<text class="t" x="28.70" y="416.71" text-anchor="end" font-family='"Liberation Sans", Arial, sans-serif' font-size="6.4" fill="#1a1a1a">-100</text>
<line x1="31.50" y1="397.47" x2="33.50" y2="397.47" stroke="#666666" stroke-width="0.9"/>
<line x1="247.70" y1="397.47" x2="245.70" y2="397.47" stroke="#666666" stroke-width="0.9"/>
<text class="t" x="28.70" y="400.38" text-anchor="end" font-family='"Liberation Sans", Arial, sans-serif' font-size="6.4" fill="#1a1a1a">-90</text>
<line x1="31.50" y1="381.14" x2="33.50" y2="381.14" stroke="#666666" stroke-width="0.9"/>
<line x1="247.70" y1="381.14" x2="245.70" y2="381.14" stroke="#666666" stroke-width="0.9"/>
<text class="t" x="28.70" y="384.05" text-anchor="end" font-family='"Liberation Sans", Arial, sans-serif' font-size="6.4" fill="#1a1a1a">-80</text>
<line x1="31.50" y1="364.81" x2="33.50" y2="364.81" stroke="#666666" stroke-width="0.9"/>
<line x1="247.70" y1="364.81" x2="245.70" y2="364.81" stroke="#666666" stroke-width="0.9"/>
<text class="t" x="28.70" y="367.72" text-anchor="end" font-family='"Liberation Sans", Arial, sans-serif' font-size="6.4" fill="#1a1a1a">-70</text>
<line x1="31.50" y1="348.48" x2="33.50" y2="348.48" stroke="#666666" stroke-width="0.9"/>
<line x1="247.70" y1="348.48" x2="245.70" y2="348.48" stroke="#666666" stroke-width="0.9"/>
<text class="t" x="28.70" y="351.39" text-anchor="end" font-family='"Liberation Sans", Arial, sans-serif' font-size="6.4" fill="#1a1a1a">-60</text>
<line x1="31.50" y1="332.15" x2="33.50" y2="332.15" stroke="#666666" stroke-width="0.9"/>
<line x1="247.70" y1="332.15" x2="245.70" y2="332.15" stroke="#666666" stroke-width="0.9"/>
<text class="t" x="28.70" y="335.06" text-anchor="end" font-family='"Liberation Sans", Arial, sans-serif' font-size="6.4" fill="#1a1a1a">-50</text>
<line x1="31.50" y1="315.82" x2="33.50" y2="315.82" stroke="#666666" stroke-width="0.9"/>
<line x1="247.70" y1="315.82" x2="245.70" y2="315.82" stroke="#666666" stroke-width="0.9"/>
<text class="t" x="28.70" y="318.73" text-anchor="end" font-family='"Liberation Sans", Arial, sans-serif' font-size="6.4" fill="#1a1a1a">-40</text>
<line x1="31.50" y1="299.49" x2="33.50" y2="299.49" stroke="#666666" stroke-width="0.9"/>
<line x1="247.70" y1="299.49" x2="245.70" y2="299.49" stroke="#666666" stroke-width="0.9"/>
<text class="t" x="28.70" y="302.40" text-anchor="end" font-family='"Liberation Sans", Arial, sans-serif' font-size="6.4" fill="#1a1a1a">-30</text>
<line x1="31.50" y1="283.16" x2="33.50" y2="283.16" stroke="#666666" stroke-width="0.9"/>
<line x1="247.70" y1="283.16" x2="245.70" y2="283.16" stroke="#666666" stroke-width="0.9"/>
<text class="t" x="28.70" y="286.07" text-anchor="end" font-family='"Liberation Sans", Arial, sans-serif' font-size="6.4" fill="#1a1a1a">-20</text>
<line x1="31.50" y1="266.83" x2="33.50" y2="266.83" stroke="#666666" stroke-width="0.9"/>
<line x1="247.70" y1="266.83" x2="245.70" y2="266.83" stroke="#666666" stroke-width="0.9"/>
<text class="t" x="28.70" y="269.74" text-anchor="end" font-family='"Liberation Sans", Arial, sans-serif' font-size="6.4" fill="#1a1a1a">-10</text>
<line x1="31.50" y1="250.50" x2="33.50" y2="250.50" stroke="#666666" stroke-width="0.9"/>
<line x1="247.70" y1="250.50" x2="245.70" y2="250.50" stroke="#666666" stroke-width="0.9"/>
<text class="t" x="28.70" y="253.41" text-anchor="end" font-family='"Liberation Sans", Arial, sans-serif' font-size="6.4" fill="#1a1a1a">0</text>
<rect x="308.60" y="249.50" width="215.00" height="167.80" fill="none" stroke="#666666" stroke-width="1.2"/>
<line x1="308.60" y1="417.30" x2="308.60" y2="415.30" stroke="#666666" stroke-width="0.9"/>
<line x1="308.60" y1="249.50" x2="308.60" y2="251.50" stroke="#666666" stroke-width="0.9"/>
<text class="t" x="308.60" y="427.70" text-anchor="middle" font-family='"Liberation Sans", Arial, sans-serif' font-size="6.4" fill="#1a1a1a">400</text>
<line x1="332.49" y1="417.30" x2="332.49" y2="415.30" stroke="#666666" stroke-width="0.9"/>
<line x1="332.49" y1="249.50" x2="332.49" y2="251.50" stroke="#666666" stroke-width="0.9"/>
<text class="t" x="332.49" y="427.70" text-anchor="middle" font-family='"Liberation Sans", Arial, sans-serif' font-size="6.4" fill="#1a1a1a">600</text>
<line x1="356.38" y1="417.30" x2="356.38" y2="415.30" stroke="#666666" stroke-width="0.9"/>
<line x1="356.38" y1="249.50" x2="356.38" y2="251.50" stroke="#666666" stroke-width="0.9"/>
<text class="t" x="356.38" y="427.70" text-anchor="middle" font-family='"Liberation Sans", Arial, sans-serif' font-size="6.4" fill="#1a1a1a">800</text>
<line x1="380.27" y1="417.30" x2="380.27" y2="415.30" stroke="#666666" stroke-width="0.9"/>
<line x1="380.27" y1="249.50" x2="380.27" y2="251.50" stroke="#666666" stroke-width="0.9"/>
<text class="t" x="380.27" y="427.70" text-anchor="middle" font-family='"Liberation Sans", Arial, sans-serif' font-size="6.4" fill="#1a1a1a">1000</text>
<line x1="404.16" y1="417.30" x2="404.16" y2="415.30" stroke="#666666" stroke-width="0.9"/>
<line x1="404.16" y1="249.50" x2="404.16" y2="251.50" stroke="#666666" stroke-width="0.9"/>
<text class="t" x="404.16" y="427.70" text-anchor="middle" font-family='"Liberation Sans", Arial, sans-serif' font-size="6.4" fill="#1a1a1a">1200</text>
<line x1="428.04" y1="417.30" x2="428.04" y2="415.30" stroke="#666666" stroke-width="0.9"/>
<line x1="428.04" y1="249.50" x2="428.04" y2="251.50" stroke="#666666" stroke-width="0.9"/>
<text class="t" x="428.04" y="427.70" text-anchor="middle" font-family='"Liberation Sans", Arial, sans-serif' font-size="6.4" fill="#1a1a1a">1400</text>
<line x1="451.93" y1="417.30" x2="451.93" y2="415.30" stroke="#666666" stroke-width="0.9"/>
<line x1="451.93" y1="249.50" x2="451.93" y2="251.50" stroke="#666666" stroke-width="0.9"/>
<text class="t" x="451.93" y="427.70" text-anchor="middle" font-family='"Liberation Sans", Arial, sans-serif' font-size="6.4" fill="#1a1a1a">1600</text>
<line x1="475.82" y1="417.30" x2="475.82" y2="415.30" stroke="#666666" stroke-width="0.9"/>
<line x1="475.82" y1="249.50" x2="475.82" y2="251.50" stroke="#666666" stroke-width="0.9"/>
<text class="t" x="475.82" y="427.70" text-anchor="middle" font-family='"Liberation Sans", Arial, sans-serif' font-size="6.4" fill="#1a1a1a">1800</text>
<line x1="499.71" y1="417.30" x2="499.71" y2="415.30" stroke="#666666" stroke-width="0.9"/>
<line x1="499.71" y1="249.50" x2="499.71" y2="251.50" stroke="#666666" stroke-width="0.9"/>
<text class="t" x="499.71" y="427.70" text-anchor="middle" font-family='"Liberation Sans", Arial, sans-serif' font-size="6.4" fill="#1a1a1a">2000</text>
<line x1="523.60" y1="417.30" x2="523.60" y2="415.30" stroke="#666666" stroke-width="0.9"/>
<line x1="523.60" y1="249.50" x2="523.60" y2="251.50" stroke="#666666" stroke-width="0.9"/>
<text class="t" x="523.60" y="427.70" text-anchor="middle" font-family='"Liberation Sans", Arial, sans-serif' font-size="6.4" fill="#1a1a1a">2200</text>
<line x1="308.60" y1="417.30" x2="310.60" y2="417.30" stroke="#666666" stroke-width="0.9"/>
<line x1="523.60" y1="417.30" x2="521.60" y2="417.30" stroke="#666666" stroke-width="0.9"/>
<text class="t" x="305.80" y="420.21" text-anchor="end" font-family='"Liberation Sans", Arial, sans-serif' font-size="6.4" fill="#1a1a1a">-100</text>
<line x1="308.60" y1="400.52" x2="310.60" y2="400.52" stroke="#666666" stroke-width="0.9"/>
<line x1="523.60" y1="400.52" x2="521.60" y2="400.52" stroke="#666666" stroke-width="0.9"/>
<text class="t" x="305.80" y="403.43" text-anchor="end" font-family='"Liberation Sans", Arial, sans-serif' font-size="6.4" fill="#1a1a1a">-90</text>
<line x1="308.60" y1="383.74" x2="310.60" y2="383.74" stroke="#666666" stroke-width="0.9"/>
<line x1="523.60" y1="383.74" x2="521.60" y2="383.74" stroke="#666666" stroke-width="0.9"/>
<text class="t" x="305.80" y="386.65" text-anchor="end" font-family='"Liberation Sans", Arial, sans-serif' font-size="6.4" fill="#1a1a1a">-80</text>
<line x1="308.60" y1="366.96" x2="310.60" y2="366.96" stroke="#666666" stroke-width="0.9"/>
<line x1="523.60" y1="366.96" x2="521.60" y2="366.96" stroke="#666666" stroke-width="0.9"/>
<text class="t" x="305.80" y="369.87" text-anchor="end" font-family='"Liberation Sans", Arial, sans-serif' font-size="6.4" fill="#1a1a1a">-70</text>
<line x1="308.60" y1="350.18" x2="310.60" y2="350.18" stroke="#666666" stroke-width="0.9"/>
<line x1="523.60" y1="350.18" x2="521.60" y2="350.18" stroke="#666666" stroke-width="0.9"/>
<text class="t" x="305.80" y="353.09" text-anchor="end" font-family='"Liberation Sans", Arial, sans-serif' font-size="6.4" fill="#1a1a1a">-60</text>
<line x1="308.60" y1="333.40" x2="310.60" y2="333.40" stroke="#666666" stroke-width="0.9"/>
<line x1="523.60" y1="333.40" x2="521.60" y2="333.40" stroke="#666666" stroke-width="0.9"/>
<text class="t" x="305.80" y="336.31" text-anchor="end" font-family='"Liberation Sans", Arial, sans-serif' font-size="6.4" fill="#1a1a1a">-50</text>
<line x1="308.60" y1="316.62" x2="310.60" y2="316.62" stroke="#666666" stroke-width="0.9"/>
<line x1="523.60" y1="316.62" x2="521.60" y2="316.62" stroke="#666666" stroke-width="0.9"/>
<text class="t" x="305.80" y="319.53" text-anchor="end" font-family='"Liberation Sans", Arial, sans-serif' font-size="6.4" fill="#1a1a1a">-40</text>
<line x1="308.60" y1="299.84" x2="310.60" y2="299.84" stroke="#666666" stroke-width="0.9"/>
<line x1="523.60" y1="299.84" x2="521.60" y2="299.84" stroke="#666666" stroke-width="0.9"/>
<text class="t" x="305.80" y="302.75" text-anchor="end" font-family='"Liberation Sans", Arial, sans-serif' font-size="6.4" fill="#1a1a1a">-30</text>
<line x1="308.60" y1="283.06" x2="310.60" y2="283.06" stroke="#666666" stroke-width="0.9"/>
<line x1="523.60" y1="283.06" x2="521.60" y2="283.06" stroke="#666666" stroke-width="0.9"/>
<text class="t" x="305.80" y="285.97" text-anchor="end" font-family='"Liberation Sans", Arial, sans-serif' font-size="6.4" fill="#1a1a1a">-20</text>
<line x1="308.60" y1="266.28" x2="310.60" y2="266.28" stroke="#666666" stroke-width="0.9"/>
<line x1="523.60" y1="266.28" x2="521.60" y2="266.28" stroke="#666666" stroke-width="0.9"/>
<text class="t" x="305.80" y="269.19" text-anchor="end" font-family='"Liberation Sans", Arial, sans-serif' font-size="6.4" fill="#1a1a1a">-10</text>
<line x1="308.60" y1="249.50" x2="310.60" y2="249.50" stroke="#666666" stroke-width="0.9"/>
<line x1="523.60" y1="249.50" x2="521.60" y2="249.50" stroke="#666666" stroke-width="0.9"/>
<text class="t" x="305.80" y="252.41" text-anchor="end" font-family='"Liberation Sans", Arial, sans-serif' font-size="6.4" fill="#1a1a1a">0</text>
<rect x="32.00" y="479.10" width="217.30" height="163.80" fill="none" stroke="#666666" stroke-width="1.2"/>
<line x1="32.00" y1="642.90" x2="32.00" y2="640.90" stroke="#666666" stroke-width="0.9"/>
<line x1="32.00" y1="479.10" x2="32.00" y2="481.10" stroke="#666666" stroke-width="0.9"/>
<text class="t" x="32.00" y="652.90" text-anchor="middle" font-family='"Liberation Sans", Arial, sans-serif' font-size="6.4" fill="#1a1a1a">-500</text>
<line x1="63.04" y1="642.90" x2="63.04" y2="640.90" stroke="#666666" stroke-width="0.9"/>
<line x1="63.04" y1="479.10" x2="63.04" y2="481.10" stroke="#666666" stroke-width="0.9"/>
<text class="t" x="63.04" y="652.90" text-anchor="middle" font-family='"Liberation Sans", Arial, sans-serif' font-size="6.4" fill="#1a1a1a">0</text>
<line x1="94.09" y1="642.90" x2="94.09" y2="640.90" stroke="#666666" stroke-width="0.9"/>
<line x1="94.09" y1="479.10" x2="94.09" y2="481.10" stroke="#666666" stroke-width="0.9"/>
<text class="t" x="94.09" y="652.90" text-anchor="middle" font-family='"Liberation Sans", Arial, sans-serif' font-size="6.4" fill="#1a1a1a">500</text>
<line x1="125.13" y1="642.90" x2="125.13" y2="640.90" stroke="#666666" stroke-width="0.9"/>
<line x1="125.13" y1="479.10" x2="125.13" y2="481.10" stroke="#666666" stroke-width="0.9"/>
<text class="t" x="125.13" y="652.90" text-anchor="middle" font-family='"Liberation Sans", Arial, sans-serif' font-size="6.4" fill="#1a1a1a">1000</text>
<line x1="156.17" y1="642.90" x2="156.17" y2="640.90" stroke="#666666" stroke-width="0.9"/>
<line x1="156.17" y1="479.10" x2="156.17" y2="481.10" stroke="#666666" stroke-width="0.9"/>
<text class="t" x="156.17" y="652.90" text-anchor="middle" font-family='"Liberation Sans", Arial, sans-serif' font-size="6.4" fill="#1a1a1a">1500</text>
<line x1="187.21" y1="642.90" x2="187.21" y2="640.90" stroke="#666666" stroke-width="0.9"/>
<line x1="187.21" y1="479.10" x2="187.21" y2="481.10" stroke="#666666" stroke-width="0.9"/>
<text class="t" x="187.21" y="652.90" text-anchor="middle" font-family='"Liberation Sans", Arial, sans-serif' font-size="6.4" fill="#1a1a1a">2000</text>
<line x1="218.26" y1="642.90" x2="218.26" y2="640.90" stroke="#666666" stroke-width="0.9"/>
<line x1="218.26" y1="479.10" x2="218.26" y2="481.10" stroke="#666666" stroke-width="0.9"/>
<text class="t" x="218.26" y="652.90" text-anchor="middle" font-family='"Liberation Sans", Arial, sans-serif' font-size="6.4" fill="#1a1a1a">2500</text>
<line x1="249.30" y1="642.90" x2="249.30" y2="640.90" stroke="#666666" stroke-width="0.9"/>
<line x1="249.30" y1="479.10" x2="249.30" y2="481.10" stroke="#666666" stroke-width="0.9"/>
<text class="t" x="249.30" y="652.90" text-anchor="middle" font-family='"Liberation Sans", Arial, sans-serif' font-size="6.4" fill="#1a1a1a">3000</text>
<line x1="32.00" y1="642.90" x2="34.00" y2="642.90" stroke="#666666" stroke-width="0.9"/>
<line x1="249.30" y1="642.90" x2="247.30" y2="642.90" stroke="#666666" stroke-width="0.9"/>
<text class="t" x="29.20" y="645.81" text-anchor="end" font-family='"Liberation Sans", Arial, sans-serif' font-size="6.4" fill="#1a1a1a">-45</text>
<line x1="32.00" y1="624.70" x2="34.00" y2="624.70" stroke="#666666" stroke-width="0.9"/>
<line x1="249.30" y1="624.70" x2="247.30" y2="624.70" stroke="#666666" stroke-width="0.9"/>
<text class="t" x="29.20" y="627.61" text-anchor="end" font-family='"Liberation Sans", Arial, sans-serif' font-size="6.4" fill="#1a1a1a">-40</text>
<line x1="32.00" y1="606.50" x2="34.00" y2="606.50" stroke="#666666" stroke-width="0.9"/>
<line x1="249.30" y1="606.50" x2="247.30" y2="606.50" stroke="#666666" stroke-width="0.9"/>
<text class="t" x="29.20" y="609.41" text-anchor="end" font-family='"Liberation Sans", Arial, sans-serif' font-size="6.4" fill="#1a1a1a">-35</text>
<line x1="32.00" y1="588.30" x2="34.00" y2="588.30" stroke="#666666" stroke-width="0.9"/>
<line x1="249.30" y1="588.30" x2="247.30" y2="588.30" stroke="#666666" stroke-width="0.9"/>
<text class="t" x="29.20" y="591.21" text-anchor="end" font-family='"Liberation Sans", Arial, sans-serif' font-size="6.4" fill="#1a1a1a">-30</text>
<line x1="32.00" y1="570.10" x2="34.00" y2="570.10" stroke="#666666" stroke-width="0.9"/>
<line x1="249.30" y1="570.10" x2="247.30" y2="570.10" stroke="#666666" stroke-width="0.9"/>
<text class="t" x="29.20" y="573.01" text-anchor="end" font-family='"Liberation Sans", Arial, sans-serif' font-size="6.4" fill="#1a1a1a">-25</text>
<line x1="32.00" y1="551.90" x2="34.00" y2="551.90" stroke="#666666" stroke-width="0.9"/>
<line x1="249.30" y1="551.90" x2="247.30" y2="551.90" stroke="#666666" stroke-width="0.9"/>
<text class="t" x="29.20" y="554.81" text-anchor="end" font-family='"Liberation Sans", Arial, sans-serif' font-size="6.4" fill="#1a1a1a">-20</text>
<line x1="32.00" y1="533.70" x2="34.00" y2="533.70" stroke="#666666" stroke-width="0.9"/>
<line x1="249.30" y1="533.70" x2="247.30" y2="533.70" stroke="#666666" stroke-width="0.9"/>
<text class="t" x="29.20" y="536.61" text-anchor="end" font-family='"Liberation Sans", Arial, sans-serif' font-size="6.4" fill="#1a1a1a">-15</text>
<line x1="32.00" y1="515.50" x2="34.00" y2="515.50" stroke="#666666" stroke-width="0.9"/>
<line x1="249.30" y1="515.50" x2="247.30" y2="515.50" stroke="#666666" stroke-width="0.9"/>
<text class="t" x="29.20" y="518.41" text-anchor="end" font-family='"Liberation Sans", Arial, sans-serif' font-size="6.4" fill="#1a1a1a">-10</text>
<line x1="32.00" y1="497.30" x2="34.00" y2="497.30" stroke="#666666" stroke-width="0.9"/>
<line x1="249.30" y1="497.30" x2="247.30" y2="497.30" stroke="#666666" stroke-width="0.9"/>
<text class="t" x="29.20" y="500.21" text-anchor="end" font-family='"Liberation Sans", Arial, sans-serif' font-size="6.4" fill="#1a1a1a">-5</text>
<line x1="32.00" y1="479.10" x2="34.00" y2="479.10" stroke="#666666" stroke-width="0.9"/>
<line x1="249.30" y1="479.10" x2="247.30" y2="479.10" stroke="#666666" stroke-width="0.9"/>
<text class="t" x="29.20" y="482.01" text-anchor="end" font-family='"Liberation Sans", Arial, sans-serif' font-size="6.4" fill="#1a1a1a">0</text>
<rect x="308.60" y="478.50" width="214.90" height="167.10" fill="none" stroke="#666666" stroke-width="1.2"/>
<line x1="308.60" y1="645.60" x2="308.60" y2="643.60" stroke="#666666" stroke-width="0.9"/>
<line x1="308.60" y1="478.50" x2="308.60" y2="480.50" stroke="#666666" stroke-width="0.9"/>
<text class="t" x="308.60" y="655.50" text-anchor="middle" font-family='"Liberation Sans", Arial, sans-serif' font-size="6.4" fill="#1a1a1a">-500</text>
<line x1="339.30" y1="645.60" x2="339.30" y2="643.60" stroke="#666666" stroke-width="0.9"/>
<line x1="339.30" y1="478.50" x2="339.30" y2="480.50" stroke="#666666" stroke-width="0.9"/>
<text class="t" x="339.30" y="655.50" text-anchor="middle" font-family='"Liberation Sans", Arial, sans-serif' font-size="6.4" fill="#1a1a1a">0</text>
<line x1="370.00" y1="645.60" x2="370.00" y2="643.60" stroke="#666666" stroke-width="0.9"/>
<line x1="370.00" y1="478.50" x2="370.00" y2="480.50" stroke="#666666" stroke-width="0.9"/>
<text class="t" x="370.00" y="655.50" text-anchor="middle" font-family='"Liberation Sans", Arial, sans-serif' font-size="6.4" fill="#1a1a1a">500</text>
<line x1="400.70" y1="645.60" x2="400.70" y2="643.60" stroke="#666666" stroke-width="0.9"/>
<line x1="400.70" y1="478.50" x2="400.70" y2="480.50" stroke="#666666" stroke-width="0.9"/>
<text class="t" x="400.70" y="655.50" text-anchor="middle" font-family='"Liberation Sans", Arial, sans-serif' font-size="6.4" fill="#1a1a1a">1000</text>
<line x1="431.40" y1="645.60" x2="431.40" y2="643.60" stroke="#666666" stroke-width="0.9"/>
<line x1="431.40" y1="478.50" x2="431.40" y2="480.50" stroke="#666666" stroke-width="0.9"/>
<text class="t" x="431.40" y="655.50" text-anchor="middle" font-family='"Liberation Sans", Arial, sans-serif' font-size="6.4" fill="#1a1a1a">1500</text>
<line x1="462.10" y1="645.60" x2="462.10" y2="643.60" stroke="#666666" stroke-width="0.9"/>
<line x1="462.10" y1="478.50" x2="462.10" y2="480.50" stroke="#666666" stroke-width="0.9"/>
<text class="t" x="462.10" y="655.50" text-anchor="middle" font-family='"Liberation Sans", Arial, sans-serif' font-size="6.4" fill="#1a1a1a">2000</text>
<line x1="492.80" y1="645.60" x2="492.80" y2="643.60" stroke="#666666" stroke-width="0.9"/>
<line x1="492.80" y1="478.50" x2="492.80" y2="480.50" stroke="#666666" stroke-width="0.9"/>
<text class="t" x="492.80" y="655.50" text-anchor="middle" font-family='"Liberation Sans", Arial, sans-serif' font-size="6.4" fill="#1a1a1a">2500</text>
<line x1="523.50" y1="645.60" x2="523.50" y2="643.60" stroke="#666666" stroke-width="0.9"/>
<line x1="523.50" y1="478.50" x2="523.50" y2="480.50" stroke="#666666" stroke-width="0.9"/>
<text class="t" x="523.50" y="655.50" text-anchor="middle" font-family='"Liberation Sans", Arial, sans-serif' font-size="6.4" fill="#1a1a1a">3000</text>
<line x1="308.60" y1="645.60" x2="310.60" y2="645.60" stroke="#666666" stroke-width="0.9"/>
<line x1="523.50" y1="645.60" x2="521.50" y2="645.60" stroke="#666666" stroke-width="0.9"/>
<text class="t" x="305.80" y="648.51" text-anchor="end" font-family='"Liberation Sans", Arial, sans-serif' font-size="6.4" fill="#1a1a1a">-45</text>
<line x1="308.60" y1="627.03" x2="310.60" y2="627.03" stroke="#666666" stroke-width="0.9"/>
<line x1="523.50" y1="627.03" x2="521.50" y2="627.03" stroke="#666666" stroke-width="0.9"/>
<text class="t" x="305.80" y="629.95" text-anchor="end" font-family='"Liberation Sans", Arial, sans-serif' font-size="6.4" fill="#1a1a1a">-40</text>
<line x1="308.60" y1="608.47" x2="310.60" y2="608.47" stroke="#666666" stroke-width="0.9"/>
<line x1="523.50" y1="608.47" x2="521.50" y2="608.47" stroke="#666666" stroke-width="0.9"/>
<text class="t" x="305.80" y="611.38" text-anchor="end" font-family='"Liberation Sans", Arial, sans-serif' font-size="6.4" fill="#1a1a1a">-35</text>
<line x1="308.60" y1="589.90" x2="310.60" y2="589.90" stroke="#666666" stroke-width="0.9"/>
<line x1="523.50" y1="589.90" x2="521.50" y2="589.90" stroke="#666666" stroke-width="0.9"/>
<text class="t" x="305.80" y="592.81" text-anchor="end" font-family='"Liberation Sans", Arial, sans-serif' font-size="6.4" fill="#1a1a1a">-30</text>
<line x1="308.60" y1="571.33" x2="310.60" y2="571.33" stroke="#666666" stroke-width="0.9"/>
<line x1="523.50" y1="571.33" x2="521.50" y2="571.33" stroke="#666666" stroke-width="0.9"/>
<text class="t" x="305.80" y="574.25" text-anchor="end" font-family='"Liberation Sans", Arial, sans-serif' font-size="6.4" fill="#1a1a1a">-25</text>
<line x1="308.60" y1="552.77" x2="310.60" y2="552.77" stroke="#666666" stroke-width="0.9"/>
<line x1="523.50" y1="552.77" x2="521.50" y2="552.77" stroke="#666666" stroke-width="0.9"/>
<text class="t" x="305.80" y="555.68" text-anchor="end" font-family='"Liberation Sans", Arial, sans-serif' font-size="6.4" fill="#1a1a1a">-20</text>
<line x1="308.60" y1="534.20" x2="310.60" y2="534.20" stroke="#666666" stroke-width="0.9"/>
<line x1="523.50" y1="534.20" x2="521.50" y2="534.20" stroke="#666666" stroke-width="0.9"/>
<text class="t" x="305.80" y="537.11" text-anchor="end" font-family='"Liberation Sans", Arial, sans-serif' font-size="6.4" fill="#1a1a1a">-15</text>
<line x1="308.60" y1="515.63" x2="310.60" y2="515.63" stroke="#666666" stroke-width="0.9"/>
<line x1="523.50" y1="515.63" x2="521.50" y2="515.63" stroke="#666666" stroke-width="0.9"/>
<text class="t" x="305.80" y="518.55" text-anchor="end" font-family='"Liberation Sans", Arial, sans-serif' font-size="6.4" fill="#1a1a1a">-10</text>
<line x1="308.60" y1="497.07" x2="310.60" y2="497.07" stroke="#666666" stroke-width="0.9"/>
<line x1="523.50" y1="497.07" x2="521.50" y2="497.07" stroke="#666666" stroke-width="0.9"/>
<text class="t" x="305.80" y="499.98" text-anchor="end" font-family='"Liberation Sans", Arial, sans-serif' font-size="6.4" fill="#1a1a1a">-5</text>
<line x1="308.60" y1="478.50" x2="310.60" y2="478.50" stroke="#666666" stroke-width="0.9"/>
<line x1="523.50" y1="478.50" x2="521.50" y2="478.50" stroke="#666666" stroke-width="0.9"/>
<text class="t" x="305.80" y="481.41" text-anchor="end" font-family='"Liberation Sans", Arial, sans-serif' font-size="6.4" fill="#1a1a1a">0</text>
<text class="s" x="11.83" y="13.6" font-family='"Liberation Serif", "Times New Roman", serif' font-size="10.3" textLength="203.32" lengthAdjust="spacingAndGlyphs">Imaging result in Range dimension, STCA + MF,</text>
<text class="s" x="219.40" y="13.6" font-family='"Liberation Serif", "Times New Roman", serif' font-style="italic" font-size="10.3">θ</text>
<text class="s" x="224.71" y="19.0" font-family='"Liberation Serif", "Times New Roman", serif' font-size="7.6">0</text>
<text class="s" x="229.99" y="13.6" font-family='"Liberation Serif", "Times New Roman", serif' font-size="10.3">=</text>
<text class="s" x="239.12" y="13.6" font-family='"Liberation Serif", "Times New Roman", serif' font-size="10.3" textLength="21.45" lengthAdjust="spacingAndGlyphs">-5.22</text>
<text class="s" x="261.40" y="8.22" font-family='"Liberation Serif", "Times New Roman", serif' font-size="8.0">°</text>
<text class="s" x="292.03" y="14.2" font-family='"Liberation Serif", "Times New Roman", serif' font-size="10.3" textLength="203.62" lengthAdjust="spacingAndGlyphs">Imaging result in Range dimension, STCA + MF,</text>
<text class="s" x="499.70" y="14.2" font-family='"Liberation Serif", "Times New Roman", serif' font-style="italic" font-size="10.3">θ</text>
<text class="s" x="504.71" y="19.0" font-family='"Liberation Serif", "Times New Roman", serif' font-size="7.6">0</text>
<text class="s" x="510.69" y="14.2" font-family='"Liberation Serif", "Times New Roman", serif' font-size="10.3">=</text>
<text class="s" x="519.30" y="14.2" font-family='"Liberation Serif", "Times New Roman", serif' font-size="10.3" textLength="10.08" lengthAdjust="spacingAndGlyphs">40</text>
<text class="s" x="530.50" y="9.52" font-family='"Liberation Serif", "Times New Roman", serif' font-size="8.0">°</text>
<text class="s" x="9.15" y="240.8" font-family='"Liberation Serif", "Times New Roman", serif' font-size="10.3" textLength="214.48" lengthAdjust="spacingAndGlyphs">Imaging result in Range dimension, Baker code + MF,</text>
<text class="s" x="226.70" y="240.8" font-family='"Liberation Serif", "Times New Roman", serif' font-style="italic" font-size="10.3">θ</text>
<text class="s" x="231.71" y="245.5" font-family='"Liberation Serif", "Times New Roman", serif' font-size="7.6">0</text>
<text class="s" x="237.49" y="240.8" font-family='"Liberation Serif", "Times New Roman", serif' font-size="10.3">=</text>
<text class="s" x="245.63" y="240.8" font-family='"Liberation Serif", "Times New Roman", serif' font-size="10.3" textLength="20.92" lengthAdjust="spacingAndGlyphs">-5.22</text>
<text class="s" x="267.20" y="235.62" font-family='"Liberation Serif", "Times New Roman", serif' font-size="8.0">°</text>
<text class="s" x="288.34" y="240.3" font-family='"Liberation Serif", "Times New Roman", serif' font-size="10.3" textLength="219.30" lengthAdjust="spacingAndGlyphs">Imaging result in Range dimension, Baker code + MF,</text>
<text class="s" x="510.70" y="240.3" font-family='"Liberation Serif", "Times New Roman", serif' font-style="italic" font-size="10.3">θ</text>
<text class="s" x="515.21" y="245.0" font-family='"Liberation Serif", "Times New Roman", serif' font-size="7.6">0</text>
<text class="s" x="521.49" y="240.3" font-family='"Liberation Serif", "Times New Roman", serif' font-size="10.3">=</text>
<text class="s" x="529.29" y="240.3" font-family='"Liberation Serif", "Times New Roman", serif' font-size="10.3" textLength="10.62" lengthAdjust="spacingAndGlyphs">40</text>
<text class="s" x="541.10" y="234.92" font-family='"Liberation Serif", "Times New Roman", serif' font-size="8.0">°</text>
<text class="s" x="6.94" y="469.0" font-family='"Liberation Serif", "Times New Roman", serif' font-size="10.3" textLength="220.68" lengthAdjust="spacingAndGlyphs">Imaging result in Range dimension, Baker code + MSF,</text>
<text class="s" x="230.90" y="469.0" font-family='"Liberation Serif", "Times New Roman", serif' font-style="italic" font-size="10.3">θ</text>
<text class="s" x="235.71" y="474.0" font-family='"Liberation Serif", "Times New Roman", serif' font-size="7.6">0</text>
<text class="s" x="241.49" y="469.0" font-family='"Liberation Serif", "Times New Roman", serif' font-size="10.3">=</text>
<text class="s" x="250.14" y="469.0" font-family='"Liberation Serif", "Times New Roman", serif' font-size="10.3" textLength="20.40" lengthAdjust="spacingAndGlyphs">-5.22</text>
<text class="s" x="270.70" y="464.42" font-family='"Liberation Serif", "Times New Roman", serif' font-size="8.0">°</text>
<text class="s" x="285.14" y="468.5" font-family='"Liberation Serif", "Times New Roman", serif' font-size="10.3" textLength="225.50" lengthAdjust="spacingAndGlyphs">Imaging result in Range dimension, Baker code + MSF,</text>
<text class="s" x="513.90" y="468.5" font-family='"Liberation Serif", "Times New Roman", serif' font-style="italic" font-size="10.3">θ</text>
<text class="s" x="518.71" y="473.5" font-family='"Liberation Serif", "Times New Roman", serif' font-size="7.6">0</text>
<text class="s" x="524.49" y="468.5" font-family='"Liberation Serif", "Times New Roman", serif' font-size="10.3">=</text>
<text class="s" x="532.30" y="468.5" font-family='"Liberation Serif", "Times New Roman", serif' font-size="10.3" textLength="10.08" lengthAdjust="spacingAndGlyphs">40</text>
<text class="s" x="543.80" y="463.62" font-family='"Liberation Serif", "Times New Roman", serif' font-size="8.0">°</text>
<text class="s" x="119.3" y="218.3" font-family='"Liberation Serif", "Times New Roman", serif' font-size="10.3" textLength="40.6" lengthAdjust="spacingAndGlyphs">Range(m)</text>
<text class="s" x="139.6" y="229.6" text-anchor="middle" font-family='"Liberation Serif", "Times New Roman", serif' font-size="10.3">(a)</text>
<text class="s" x="392.5" y="219.0" font-family='"Liberation Serif", "Times New Roman", serif' font-size="10.3" textLength="41.2" lengthAdjust="spacingAndGlyphs">Range(m)</text>
<text class="s" x="413.2" y="228.9" text-anchor="middle" font-family='"Liberation Serif", "Times New Roman", serif' font-size="10.3">(b)</text>
<text class="s" x="120.1" y="435.8" font-family='"Liberation Serif", "Times New Roman", serif' font-size="10.3" textLength="39.2" lengthAdjust="spacingAndGlyphs">Range(m)</text>
<text class="s" x="135.7" y="449.7" text-anchor="middle" font-family='"Liberation Serif", "Times New Roman", serif' font-size="10.3">(c)</text>
<text class="s" x="396.2" y="439.7" font-family='"Liberation Serif", "Times New Roman", serif' font-size="10.3" textLength="40.0" lengthAdjust="spacingAndGlyphs">Range(m)</text>
<text class="s" x="413.3" y="451.4" text-anchor="middle" font-family='"Liberation Serif", "Times New Roman", serif' font-size="10.3">(d)</text>
<text class="s" x="121.3" y="665.5" font-family='"Liberation Serif", "Times New Roman", serif' font-size="10.3" textLength="39.2" lengthAdjust="spacingAndGlyphs">Range(m)</text>
<text class="s" x="133.6" y="684.7" text-anchor="middle" font-family='"Liberation Serif", "Times New Roman", serif' font-size="10.3">(e)</text>
<text class="s" x="396.2" y="668.4" font-family='"Liberation Serif", "Times New Roman", serif' font-size="10.3" textLength="40.0" lengthAdjust="spacingAndGlyphs">Range(m)</text>
<text class="s" x="415.5" y="686.3" text-anchor="middle" font-family='"Liberation Serif", "Times New Roman", serif' font-size="10.3">(f)</text>
<text class="s" transform="translate(15.4,141.5) rotate(-90)" x="0" y="0" font-family='"Liberation Serif", "Times New Roman", serif' font-size="10.3" textLength="63.3" lengthAdjust="spacingAndGlyphs">Amplitude/dB</text>
<text class="s" transform="translate(290.0,141.5) rotate(-90)" x="0" y="0" font-family='"Liberation Serif", "Times New Roman", serif' font-size="10.3" textLength="64.2" lengthAdjust="spacingAndGlyphs">Amplitude/dB</text>
<text class="s" transform="translate(13.2,361.5) rotate(-90)" x="0" y="0" font-family='"Liberation Serif", "Times New Roman", serif' font-size="10.3" textLength="57.2" lengthAdjust="spacingAndGlyphs">Amplitude/dB</text>
<text class="s" transform="translate(289.0,364.0) rotate(-90)" x="0" y="0" font-family='"Liberation Serif", "Times New Roman", serif' font-size="10.3" textLength="60.6" lengthAdjust="spacingAndGlyphs">Amplitude/dB</text>
<text class="s" transform="translate(16.6,591.9) rotate(-90)" x="0" y="0" font-family='"Liberation Serif", "Times New Roman", serif' font-size="10.3" textLength="60.7" lengthAdjust="spacingAndGlyphs">Amplitude/dB</text>
<text class="s" transform="translate(292.5,592.7) rotate(-90)" x="0" y="0" font-family='"Liberation Serif", "Times New Roman", serif' font-size="10.3" textLength="60.7" lengthAdjust="spacingAndGlyphs">Amplitude/dB</text>
</svg></body></html>
